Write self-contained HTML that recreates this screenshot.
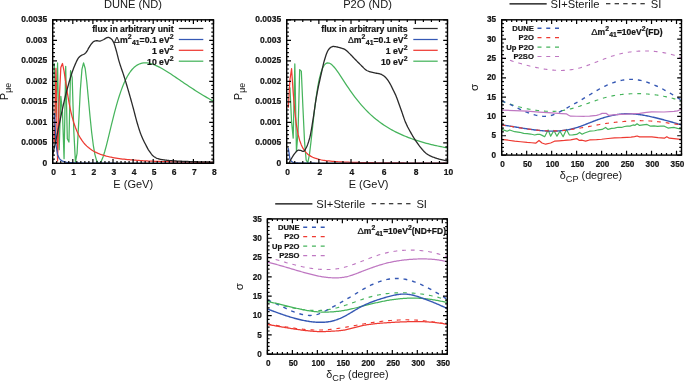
<!DOCTYPE html>
<html><head><meta charset="utf-8"><title>Sterile neutrino sensitivity</title>
<style>html,body{margin:0;padding:0;background:#fff}svg{display:block;filter:blur(0.3px)}text{font-family:"Liberation Sans",Arial,Helvetica,sans-serif;fill:#151515}text[font-weight=bold]{stroke:#151515;stroke-width:0.22px}</style>
</head><body>
<svg width="685" height="381" viewBox="0 0 685 381">
<rect width="685" height="381" fill="#fff"/>
<clipPath id="c1"><rect x="52.7" y="19.8" width="160.8" height="143.5"/></clipPath>
<path d="M54.32,63.26 L55.95,116.29 L57.57,62.90 L59.20,149.71 L60.82,96.33 L62.45,112.00 L64.07,158.72 L65.69,66.37 L67.32,138.80 L68.94,142.07 L70.57,70.51 L72.19,77.94 L73.82,131.35 L75.44,162.14 L77.06,153.45 L78.69,122.48 L80.31,90.35 L81.94,69.40 L83.56,62.85 L85.18,68.47 L86.81,82.00 L88.43,99.21 L90.06,116.78 L91.68,132.54 L93.31,145.29 L94.93,154.55 L96.55,160.35 L98.18,163.01 L99.80,162.98 L101.43,160.78 L103.05,156.89 L104.68,151.77 L106.30,145.82 L107.92,139.35 L109.55,132.65 L111.17,125.90 L112.80,119.28 L114.42,112.91 L116.05,106.86 L117.67,101.19 L119.29,95.95 L120.92,91.15 L122.54,86.78 L124.17,82.86 L125.79,79.36 L127.42,76.27 L129.04,73.57 L130.66,71.24 L132.29,69.25 L133.91,67.58 L135.54,66.20 L137.16,65.09 L138.78,64.23 L140.41,63.59 L142.03,63.16 L143.66,62.92 L145.28,62.85 L146.91,62.93 L148.53,63.15 L150.15,63.49 L151.78,63.93 L153.40,64.48 L155.03,65.11 L156.65,65.82 L158.28,66.60 L159.90,67.43 L161.52,68.31 L163.15,69.24 L164.77,70.21 L166.40,71.21 L168.02,72.24 L169.65,73.28 L171.27,74.35 L172.89,75.43 L174.52,76.52 L176.14,77.62 L177.77,78.72 L179.39,79.83 L181.02,80.94 L182.64,82.04 L184.26,83.15 L185.89,84.24 L187.51,85.34 L189.14,86.42 L190.76,87.49 L192.38,88.56 L194.01,89.61 L195.63,90.66 L197.26,91.69 L198.88,92.71 L200.51,93.72 L202.13,94.71 L203.75,95.70 L205.38,96.66 L207.00,97.62 L208.63,98.56 L210.25,99.49 L211.88,100.40 L213.50,101.30" fill="none" stroke="#46b45c" stroke-width="1.25" stroke-linejoin="round" clip-path="url(#c1)"/>
<path d="M54.32,142.07 L55.95,68.47 L57.57,160.78 L59.20,101.19 L60.82,67.58 L62.45,63.49 L64.07,71.21 L65.69,82.04 L67.32,92.71 L68.94,102.18 L70.57,110.27 L72.19,117.07 L73.82,122.77 L75.44,127.56 L77.06,131.60 L78.69,135.03 L80.31,137.95 L81.94,140.46 L83.56,142.62 L85.18,144.50 L86.81,146.14 L88.43,147.58 L90.06,148.85 L91.68,149.97 L93.31,150.97 L94.93,151.87 L96.55,152.67 L98.18,153.39 L99.80,154.04 L101.43,154.63 L103.05,155.16 L104.68,155.65 L106.30,156.10 L107.92,156.50 L109.55,156.88 L111.17,157.22 L112.80,157.54 L114.42,157.83 L116.05,158.11 L117.67,158.36 L119.29,158.59 L120.92,158.81 L122.54,159.01 L124.17,159.20 L125.79,159.38 L127.42,159.55 L129.04,159.70 L130.66,159.85 L132.29,159.99 L133.91,160.12 L135.54,160.24 L137.16,160.36 L138.78,160.46 L140.41,160.57 L142.03,160.67 L143.66,160.76 L145.28,160.85 L146.91,160.93 L148.53,161.01 L150.15,161.08 L151.78,161.15 L153.40,161.22 L155.03,161.29 L156.65,161.35 L158.28,161.41 L159.90,161.47 L161.52,161.52 L163.15,161.57 L164.77,161.62 L166.40,161.67 L168.02,161.71 L169.65,161.76 L171.27,161.80 L172.89,161.84 L174.52,161.88 L176.14,161.91 L177.77,161.95 L179.39,161.98 L181.02,162.02 L182.64,162.05 L184.26,162.08 L185.89,162.11 L187.51,162.14 L189.14,162.16 L190.76,162.19 L192.38,162.22 L194.01,162.24 L195.63,162.27 L197.26,162.29 L198.88,162.31 L200.51,162.33 L202.13,162.35 L203.75,162.37 L205.38,162.39 L207.00,162.41 L208.63,162.43 L210.25,162.45 L211.88,162.47 L213.50,162.48" fill="none" stroke="#ee3a32" stroke-width="1.25" stroke-linejoin="round" clip-path="url(#c1)"/>
<path d="M54.55,113.03 L55.95,144.50 L57.57,154.63 L59.20,158.36 L60.82,160.12 L62.45,161.08 L64.07,161.67 L65.69,162.05 L67.32,162.31 L68.94,162.50 L70.57,162.64 L72.19,162.74 L73.82,162.82 L75.44,162.89 L77.06,162.94 L78.69,162.99 L80.31,163.02 L81.94,163.05 L83.56,163.08 L85.18,163.10 L86.81,163.12 L88.43,163.13 L90.06,163.15 L91.68,163.16 L93.31,163.17 L94.93,163.18 L96.55,163.19 L98.18,163.20 L99.80,163.20 L101.43,163.21 L103.05,163.22 L104.68,163.22 L106.30,163.23 L107.92,163.23 L109.55,163.23 L111.17,163.24 L112.80,163.24 L114.42,163.24 L116.05,163.25 L117.67,163.25 L119.29,163.25 L120.92,163.25 L122.54,163.26 L124.17,163.26 L125.79,163.26 L127.42,163.26 L129.04,163.26 L130.66,163.27 L132.29,163.27 L133.91,163.27 L135.54,163.27 L137.16,163.27 L138.78,163.27 L140.41,163.27 L142.03,163.27 L143.66,163.27 L145.28,163.28 L146.91,163.28 L148.53,163.28 L150.15,163.28 L151.78,163.28 L153.40,163.28 L155.03,163.28 L156.65,163.28 L158.28,163.28 L159.90,163.28 L161.52,163.28 L163.15,163.28 L164.77,163.28 L166.40,163.28 L168.02,163.28 L169.65,163.28 L171.27,163.28 L172.89,163.29 L174.52,163.29 L176.14,163.29 L177.77,163.29 L179.39,163.29 L181.02,163.29 L182.64,163.29 L184.26,163.29 L185.89,163.29 L187.51,163.29 L189.14,163.29 L190.76,163.29 L192.38,163.29 L194.01,163.29 L195.63,163.29 L197.26,163.29 L198.88,163.29 L200.51,163.29 L202.13,163.29 L203.75,163.29 L205.38,163.29 L207.00,163.29 L208.63,163.29 L210.25,163.29 L211.88,163.29 L213.50,163.29" fill="none" stroke="#3558b4" stroke-width="1.25" stroke-linejoin="round" clip-path="url(#c1)"/>
<path d="M52.70,155.10 L53.24,152.63 L53.78,150.16 L54.31,147.69 L54.85,145.22 L55.39,142.76 L55.93,140.26 L56.46,137.72 L57.00,135.16 L57.54,132.58 L58.08,129.98 L58.62,127.38 L59.15,124.77 L59.69,122.16 L60.23,119.56 L60.77,116.97 L61.30,114.40 L61.84,111.85 L62.38,109.34 L62.92,106.86 L63.46,104.42 L63.99,102.03 L64.53,99.69 L65.07,97.42 L65.61,95.20 L66.14,93.06 L66.68,90.99 L67.22,88.99 L67.76,87.03 L68.30,85.08 L68.83,83.17 L69.37,81.30 L69.91,79.46 L70.45,77.66 L70.98,75.91 L71.52,74.21 L72.06,72.57 L72.60,71.00 L73.14,69.48 L73.67,68.04 L74.21,66.68 L74.75,65.39 L75.29,64.13 L75.83,62.90 L76.36,61.73 L76.90,60.62 L77.44,59.60 L77.98,58.69 L78.51,57.91 L79.05,57.27 L79.59,56.73 L80.13,56.26 L80.67,55.85 L81.20,55.49 L81.74,55.20 L82.28,54.96 L82.82,54.75 L83.35,54.51 L83.89,54.22 L84.43,53.86 L84.97,53.45 L85.51,52.98 L86.04,52.44 L86.58,51.79 L87.12,50.93 L87.66,49.94 L88.19,48.90 L88.73,47.93 L89.27,47.04 L89.81,46.14 L90.35,45.28 L90.88,44.50 L91.42,43.84 L91.96,43.22 L92.50,42.62 L93.03,42.08 L93.57,41.62 L94.11,41.28 L94.65,41.08 L95.19,40.94 L95.72,40.83 L96.26,40.75 L96.80,40.71 L97.34,40.74 L97.87,40.83 L98.41,40.96 L98.95,41.07 L99.49,41.12 L100.03,41.08 L100.56,40.94 L101.10,40.74 L101.64,40.50 L102.18,40.24 L102.71,39.99 L103.25,39.76 L103.79,39.48 L104.33,39.17 L104.87,38.83 L105.40,38.49 L105.94,38.17 L106.48,37.89 L107.02,37.66 L107.55,37.50 L108.09,37.43 L108.63,37.47 L109.17,37.63 L109.71,37.87 L110.24,38.18 L110.78,38.52 L111.32,38.92 L111.86,39.49 L112.39,40.23 L112.93,41.10 L113.47,42.07 L114.01,43.31 L114.55,44.85 L115.08,46.58 L115.62,48.40 L116.16,50.22 L116.70,52.18 L117.24,54.29 L117.77,56.45 L118.31,58.58 L118.85,60.58 L119.39,62.40 L119.92,64.12 L120.46,65.77 L121.00,67.36 L121.54,68.92 L122.08,70.47 L122.61,72.03 L123.15,73.61 L123.69,75.23 L124.23,76.93 L124.76,78.65 L125.30,80.40 L125.84,82.18 L126.38,83.97 L126.92,85.78 L127.45,87.60 L127.99,89.44 L128.53,91.29 L129.07,93.14 L129.60,95.01 L130.14,96.90 L130.68,98.80 L131.22,100.72 L131.76,102.65 L132.29,104.59 L132.83,106.56 L133.37,108.54 L133.91,110.58 L134.44,112.67 L134.98,114.77 L135.52,116.86 L136.06,118.91 L136.60,120.88 L137.13,122.76 L137.67,124.56 L138.21,126.34 L138.75,128.08 L139.28,129.77 L139.82,131.39 L140.36,132.94 L140.90,134.39 L141.44,135.75 L141.97,137.03 L142.51,138.26 L143.05,139.43 L143.59,140.56 L144.12,141.66 L144.66,142.73 L145.20,143.78 L145.74,144.82 L146.28,145.86 L146.81,146.90 L147.35,147.91 L147.89,148.89 L148.43,149.82 L148.96,150.68 L149.50,151.47 L150.04,152.24 L150.58,152.98 L151.12,153.69 L151.65,154.35 L152.19,154.96 L152.73,155.51 L153.27,155.97 L153.81,156.40 L154.34,156.80 L154.88,157.17 L155.42,157.50 L155.96,157.81 L156.49,158.08 L157.03,158.31 L157.57,158.50 L158.11,158.68 L158.65,158.85 L159.18,159.00 L159.72,159.14 L160.26,159.27 L160.80,159.38 L161.33,159.49 L161.87,159.58 L162.41,159.67 L162.95,159.75 L163.49,159.83 L164.02,159.91 L164.56,159.99 L165.10,160.06 L165.64,160.13 L166.17,160.19 L166.71,160.26 L167.25,160.32 L167.79,160.38 L168.33,160.43 L168.86,160.49 L169.40,160.54 L169.94,160.59 L170.48,160.63 L171.01,160.68 L171.55,160.72 L172.09,160.76 L172.63,160.80 L173.17,160.83 L173.70,160.86 L174.24,160.90 L174.78,160.93 L175.32,160.96 L175.85,160.99 L176.39,161.02 L176.93,161.05 L177.47,161.08 L178.01,161.10 L178.54,161.13 L179.08,161.15 L179.62,161.18 L180.16,161.20 L180.69,161.23 L181.23,161.25 L181.77,161.27 L182.31,161.30 L182.85,161.32 L183.38,161.34 L183.92,161.36 L184.46,161.38 L185.00,161.40 L185.53,161.42 L186.07,161.44 L186.61,161.46 L187.15,161.47 L187.69,161.49 L188.22,161.51 L188.76,161.53 L189.30,161.54 L189.84,161.56 L190.37,161.57 L190.91,161.59 L191.45,161.61 L191.99,161.62 L192.53,161.64 L193.06,161.65 L193.60,161.67 L194.14,161.68 L194.68,161.69 L195.22,161.71 L195.75,161.72 L196.29,161.74 L196.83,161.75 L197.37,161.76 L197.90,161.78 L198.44,161.79 L198.98,161.81 L199.52,161.82 L200.06,161.83 L200.59,161.84 L201.13,161.86 L201.67,161.87 L202.21,161.88 L202.74,161.89 L203.28,161.90 L203.82,161.92 L204.36,161.93 L204.90,161.94 L205.43,161.95 L205.97,161.96 L206.51,161.97 L207.05,161.98 L207.58,161.99 L208.12,162.00 L208.66,162.01 L209.20,162.01 L209.74,162.02 L210.27,162.03 L210.81,162.04 L211.35,162.05 L211.89,162.05 L212.42,162.06 L212.96,162.06 L213.50,162.07" fill="none" stroke="#2a2a2a" stroke-width="1.3" stroke-linejoin="round" clip-path="url(#c1)"/>
<path d="M52.70,163.3 v-2.2 M52.70,19.8 v2.2 M56.72,163.3 v-2.2 M56.72,19.8 v2.2 M60.74,163.3 v-2.2 M60.74,19.8 v2.2 M64.76,163.3 v-2.2 M64.76,19.8 v2.2 M68.78,163.3 v-2.2 M68.78,19.8 v2.2 M72.80,163.3 v-2.2 M72.80,19.8 v2.2 M76.82,163.3 v-2.2 M76.82,19.8 v2.2 M80.84,163.3 v-2.2 M80.84,19.8 v2.2 M84.86,163.3 v-2.2 M84.86,19.8 v2.2 M88.88,163.3 v-2.2 M88.88,19.8 v2.2 M92.90,163.3 v-2.2 M92.90,19.8 v2.2 M96.92,163.3 v-2.2 M96.92,19.8 v2.2 M100.94,163.3 v-2.2 M100.94,19.8 v2.2 M104.96,163.3 v-2.2 M104.96,19.8 v2.2 M108.98,163.3 v-2.2 M108.98,19.8 v2.2 M113.00,163.3 v-2.2 M113.00,19.8 v2.2 M117.02,163.3 v-2.2 M117.02,19.8 v2.2 M121.04,163.3 v-2.2 M121.04,19.8 v2.2 M125.06,163.3 v-2.2 M125.06,19.8 v2.2 M129.08,163.3 v-2.2 M129.08,19.8 v2.2 M133.10,163.3 v-2.2 M133.10,19.8 v2.2 M137.12,163.3 v-2.2 M137.12,19.8 v2.2 M141.14,163.3 v-2.2 M141.14,19.8 v2.2 M145.16,163.3 v-2.2 M145.16,19.8 v2.2 M149.18,163.3 v-2.2 M149.18,19.8 v2.2 M153.20,163.3 v-2.2 M153.20,19.8 v2.2 M157.22,163.3 v-2.2 M157.22,19.8 v2.2 M161.24,163.3 v-2.2 M161.24,19.8 v2.2 M165.26,163.3 v-2.2 M165.26,19.8 v2.2 M169.28,163.3 v-2.2 M169.28,19.8 v2.2 M173.30,163.3 v-2.2 M173.30,19.8 v2.2 M177.32,163.3 v-2.2 M177.32,19.8 v2.2 M181.34,163.3 v-2.2 M181.34,19.8 v2.2 M185.36,163.3 v-2.2 M185.36,19.8 v2.2 M189.38,163.3 v-2.2 M189.38,19.8 v2.2 M193.40,163.3 v-2.2 M193.40,19.8 v2.2 M197.42,163.3 v-2.2 M197.42,19.8 v2.2 M201.44,163.3 v-2.2 M201.44,19.8 v2.2 M205.46,163.3 v-2.2 M205.46,19.8 v2.2 M209.48,163.3 v-2.2 M209.48,19.8 v2.2 M213.50,163.3 v-2.2 M213.50,19.8 v2.2 M52.70,163.3 v-4.3 M52.70,19.8 v4.3 M72.80,163.3 v-4.3 M72.80,19.8 v4.3 M92.90,163.3 v-4.3 M92.90,19.8 v4.3 M113.00,163.3 v-4.3 M113.00,19.8 v4.3 M133.10,163.3 v-4.3 M133.10,19.8 v4.3 M153.20,163.3 v-4.3 M153.20,19.8 v4.3 M173.30,163.3 v-4.3 M173.30,19.8 v4.3 M193.40,163.3 v-4.3 M193.40,19.8 v4.3 M213.50,163.3 v-4.3 M213.50,19.8 v4.3 M52.7,163.30 h2.2 M213.5,163.30 h-2.2 M52.7,159.20 h2.2 M213.5,159.20 h-2.2 M52.7,155.10 h2.2 M213.5,155.10 h-2.2 M52.7,151.00 h2.2 M213.5,151.00 h-2.2 M52.7,146.90 h2.2 M213.5,146.90 h-2.2 M52.7,142.80 h2.2 M213.5,142.80 h-2.2 M52.7,138.70 h2.2 M213.5,138.70 h-2.2 M52.7,134.60 h2.2 M213.5,134.60 h-2.2 M52.7,130.50 h2.2 M213.5,130.50 h-2.2 M52.7,126.40 h2.2 M213.5,126.40 h-2.2 M52.7,122.30 h2.2 M213.5,122.30 h-2.2 M52.7,118.20 h2.2 M213.5,118.20 h-2.2 M52.7,114.10 h2.2 M213.5,114.10 h-2.2 M52.7,110.00 h2.2 M213.5,110.00 h-2.2 M52.7,105.90 h2.2 M213.5,105.90 h-2.2 M52.7,101.80 h2.2 M213.5,101.80 h-2.2 M52.7,97.70 h2.2 M213.5,97.70 h-2.2 M52.7,93.60 h2.2 M213.5,93.60 h-2.2 M52.7,89.50 h2.2 M213.5,89.50 h-2.2 M52.7,85.40 h2.2 M213.5,85.40 h-2.2 M52.7,81.30 h2.2 M213.5,81.30 h-2.2 M52.7,77.20 h2.2 M213.5,77.20 h-2.2 M52.7,73.10 h2.2 M213.5,73.10 h-2.2 M52.7,69.00 h2.2 M213.5,69.00 h-2.2 M52.7,64.90 h2.2 M213.5,64.90 h-2.2 M52.7,60.80 h2.2 M213.5,60.80 h-2.2 M52.7,56.70 h2.2 M213.5,56.70 h-2.2 M52.7,52.60 h2.2 M213.5,52.60 h-2.2 M52.7,48.50 h2.2 M213.5,48.50 h-2.2 M52.7,44.40 h2.2 M213.5,44.40 h-2.2 M52.7,40.30 h2.2 M213.5,40.30 h-2.2 M52.7,36.20 h2.2 M213.5,36.20 h-2.2 M52.7,32.10 h2.2 M213.5,32.10 h-2.2 M52.7,28.00 h2.2 M213.5,28.00 h-2.2 M52.7,23.90 h2.2 M213.5,23.90 h-2.2 M52.7,19.80 h2.2 M213.5,19.80 h-2.2 M52.7,163.30 h4.3 M213.5,163.30 h-4.3 M52.7,142.80 h4.3 M213.5,142.80 h-4.3 M52.7,122.30 h4.3 M213.5,122.30 h-4.3 M52.7,101.80 h4.3 M213.5,101.80 h-4.3 M52.7,81.30 h4.3 M213.5,81.30 h-4.3 M52.7,60.80 h4.3 M213.5,60.80 h-4.3 M52.7,40.30 h4.3 M213.5,40.30 h-4.3 M52.7,19.80 h4.3 M213.5,19.80 h-4.3" stroke="#000" stroke-width="1.2" fill="none"/>
<rect x="52.7" y="19.8" width="160.8" height="143.5" fill="none" stroke="#000" stroke-width="1.4"/>
<text transform="translate(53.6,174.8) scale(0.91,1)" font-size="9.3" text-anchor="middle" font-weight="bold">0</text>
<text transform="translate(73.7,174.8) scale(0.91,1)" font-size="9.3" text-anchor="middle" font-weight="bold">1</text>
<text transform="translate(93.8,174.8) scale(0.91,1)" font-size="9.3" text-anchor="middle" font-weight="bold">2</text>
<text transform="translate(113.9,174.8) scale(0.91,1)" font-size="9.3" text-anchor="middle" font-weight="bold">3</text>
<text transform="translate(134.0,174.8) scale(0.91,1)" font-size="9.3" text-anchor="middle" font-weight="bold">4</text>
<text transform="translate(154.1,174.8) scale(0.91,1)" font-size="9.3" text-anchor="middle" font-weight="bold">5</text>
<text transform="translate(174.2,174.8) scale(0.91,1)" font-size="9.3" text-anchor="middle" font-weight="bold">6</text>
<text transform="translate(194.3,174.8) scale(0.91,1)" font-size="9.3" text-anchor="middle" font-weight="bold">7</text>
<text transform="translate(214.4,174.8) scale(0.91,1)" font-size="9.3" text-anchor="middle" font-weight="bold">8</text>
<text transform="translate(47.1,165.9) scale(0.91,1)" font-size="9.3" text-anchor="end" font-weight="bold">0</text>
<text transform="translate(47.1,145.4) scale(0.91,1)" font-size="9.3" text-anchor="end" font-weight="bold">0.0005</text>
<text transform="translate(47.1,124.9) scale(0.91,1)" font-size="9.3" text-anchor="end" font-weight="bold">0.001</text>
<text transform="translate(47.1,104.4) scale(0.91,1)" font-size="9.3" text-anchor="end" font-weight="bold">0.0015</text>
<text transform="translate(47.1,83.9) scale(0.91,1)" font-size="9.3" text-anchor="end" font-weight="bold">0.002</text>
<text transform="translate(47.1,63.4) scale(0.91,1)" font-size="9.3" text-anchor="end" font-weight="bold">0.0025</text>
<text transform="translate(47.1,42.9) scale(0.91,1)" font-size="9.3" text-anchor="end" font-weight="bold">0.003</text>
<text transform="translate(47.1,22.4) scale(0.91,1)" font-size="9.3" text-anchor="end" font-weight="bold">0.0035</text>
<text x="133" y="8.35" font-size="11.1" text-anchor="middle">DUNE (ND)</text>
<text x="133.2" y="187.5" font-size="11.0" text-anchor="middle">E (GeV)</text>
<text transform="translate(7.8,99.9) rotate(-90)" font-size="10.7">P<tspan dy="3.4" font-size="8.8">μe</tspan></text>
<path d="M178.8,28.5 H203.3" stroke="#2a2a2a" stroke-width="1.25"/>
<path d="M178.8,39.5 H203.3" stroke="#3558b4" stroke-width="1.25"/>
<path d="M178.8,50.3 H203.3" stroke="#ee3a32" stroke-width="1.25"/>
<path d="M178.8,61.2 H203.3" stroke="#46b45c" stroke-width="1.25"/>
<text transform="translate(173.6,31.6) scale(0.965,1)" font-size="9.0" text-anchor="end" font-weight="bold">flux in arbitrary unit</text>
<text transform="translate(173.6,42.6) scale(0.965,1)" font-size="9.0" text-anchor="end" font-weight="bold"><tspan font-weight="normal" font-size="9.00">Δ</tspan>m<tspan dy="-3.6" font-size="7.20">2</tspan><tspan dy="5.6" dx="0.4" font-size="7.20">41</tspan><tspan dy="-2">=0.1 eV</tspan><tspan dy="-3.6" font-size="7.20">2</tspan></text>
<text transform="translate(173.6,54.0) scale(0.965,1)" font-size="9.0" text-anchor="end" font-weight="bold">1 eV<tspan dy="-3.6" font-size="7.20">2</tspan></text>
<text transform="translate(173.6,64.60000000000001) scale(0.965,1)" font-size="9.0" text-anchor="end" font-weight="bold">10 eV<tspan dy="-3.6" font-size="7.20">2</tspan></text>
<clipPath id="c2"><rect x="286.7" y="19.8" width="160.8" height="143.5"/></clipPath>
<path d="M288.32,88.35 L289.95,87.77 L291.57,121.65 L293.20,138.09 L294.82,63.97 L296.45,151.50 L298.07,131.48 L299.69,69.61 L301.32,71.09 L302.94,107.78 L304.57,142.17 L306.19,160.26 L307.82,162.66 L309.44,154.59 L311.06,141.19 L312.69,126.10 L314.31,111.55 L315.94,98.69 L317.56,87.98 L319.18,79.48 L320.81,73.05 L322.43,68.44 L324.06,65.39 L325.68,63.62 L327.31,62.89 L328.93,63.01 L330.55,63.79 L332.18,65.08 L333.80,66.75 L335.43,68.72 L337.05,70.90 L338.68,73.22 L340.30,75.63 L341.92,78.10 L343.55,80.59 L345.17,83.07 L346.80,85.53 L348.42,87.95 L350.05,90.32 L351.67,92.64 L353.29,94.89 L354.92,97.07 L356.54,99.18 L358.17,101.22 L359.79,103.20 L361.42,105.10 L363.04,106.93 L364.66,108.69 L366.29,110.38 L367.91,112.01 L369.54,113.58 L371.16,115.09 L372.78,116.54 L374.41,117.93 L376.03,119.27 L377.66,120.55 L379.28,121.79 L380.91,122.98 L382.53,124.12 L384.15,125.22 L385.78,126.28 L387.40,127.29 L389.03,128.27 L390.65,129.21 L392.28,130.12 L393.90,130.99 L395.52,131.83 L397.15,132.65 L398.77,133.43 L400.40,134.18 L402.02,134.91 L403.65,135.61 L405.27,136.29 L406.89,136.94 L408.52,137.57 L410.14,138.18 L411.77,138.77 L413.39,139.34 L415.02,139.89 L416.64,140.42 L418.26,140.94 L419.89,141.44 L421.51,141.92 L423.14,142.39 L424.76,142.84 L426.38,143.28 L428.01,143.71 L429.63,144.12 L431.26,144.52 L432.88,144.91 L434.51,145.28 L436.13,145.65 L437.75,146.00 L439.38,146.34 L441.00,146.68 L442.63,147.00 L444.25,147.32 L445.88,147.62 L447.50,147.92" fill="none" stroke="#46b45c" stroke-width="1.25" stroke-linejoin="round" clip-path="url(#c2)"/>
<path d="M288.32,107.78 L289.95,79.48 L291.57,68.72 L293.20,92.64 L294.82,112.01 L296.45,125.22 L298.07,134.18 L299.69,140.42 L301.32,144.91 L302.94,148.21 L304.57,150.71 L306.19,152.65 L307.82,154.18 L309.44,155.40 L311.06,156.39 L312.69,157.21 L314.31,157.89 L315.94,158.47 L317.56,158.96 L319.18,159.37 L320.81,159.74 L322.43,160.05 L324.06,160.32 L325.68,160.56 L327.31,160.78 L328.93,160.96 L330.55,161.13 L332.18,161.28 L333.80,161.42 L335.43,161.54 L337.05,161.65 L338.68,161.75 L340.30,161.85 L341.92,161.93 L343.55,162.01 L345.17,162.08 L346.80,162.14 L348.42,162.20 L350.05,162.26 L351.67,162.31 L353.29,162.36 L354.92,162.40 L356.54,162.44 L358.17,162.48 L359.79,162.52 L361.42,162.55 L363.04,162.58 L364.66,162.61 L366.29,162.64 L367.91,162.66 L369.54,162.69 L371.16,162.71 L372.78,162.73 L374.41,162.76 L376.03,162.77 L377.66,162.79 L379.28,162.81 L380.91,162.83 L382.53,162.84 L384.15,162.86 L385.78,162.87 L387.40,162.89 L389.03,162.90 L390.65,162.91 L392.28,162.92 L393.90,162.94 L395.52,162.95 L397.15,162.96 L398.77,162.97 L400.40,162.98 L402.02,162.98 L403.65,162.99 L405.27,163.00 L406.89,163.01 L408.52,163.02 L410.14,163.02 L411.77,163.03 L413.39,163.04 L415.02,163.05 L416.64,163.05 L418.26,163.06 L419.89,163.06 L421.51,163.07 L423.14,163.07 L424.76,163.08 L426.38,163.09 L428.01,163.09 L429.63,163.09 L431.26,163.10 L432.88,163.10 L434.51,163.11 L436.13,163.11 L437.75,163.12 L439.38,163.12 L441.00,163.12 L442.63,163.13 L444.25,163.13 L445.88,163.13 L447.50,163.14" fill="none" stroke="#ee3a32" stroke-width="1.25" stroke-linejoin="round" clip-path="url(#c2)"/>
<path d="M288.32,148.21 L289.95,159.37 L291.57,161.54 L293.20,162.31 L294.82,162.66 L296.45,162.86 L298.07,162.98 L299.69,163.05 L301.32,163.10 L302.94,163.14 L304.57,163.17 L306.19,163.19 L307.82,163.21 L309.44,163.22 L311.06,163.23 L312.69,163.24 L314.31,163.24 L315.94,163.25 L317.56,163.26 L319.18,163.26 L320.81,163.26 L322.43,163.27 L324.06,163.27 L325.68,163.27 L327.31,163.27 L328.93,163.28 L330.55,163.28 L332.18,163.28 L333.80,163.28 L335.43,163.28 L337.05,163.28 L338.68,163.28 L340.30,163.29 L341.92,163.29 L343.55,163.29 L345.17,163.29 L346.80,163.29 L348.42,163.29 L350.05,163.29 L351.67,163.29 L353.29,163.29 L354.92,163.29 L356.54,163.29 L358.17,163.29 L359.79,163.29 L361.42,163.29 L363.04,163.29 L364.66,163.29 L366.29,163.29 L367.91,163.29 L369.54,163.29 L371.16,163.29 L372.78,163.29 L374.41,163.29 L376.03,163.29 L377.66,163.29 L379.28,163.30 L380.91,163.30 L382.53,163.30 L384.15,163.30 L385.78,163.30 L387.40,163.30 L389.03,163.30 L390.65,163.30 L392.28,163.30 L393.90,163.30 L395.52,163.30 L397.15,163.30 L398.77,163.30 L400.40,163.30 L402.02,163.30 L403.65,163.30 L405.27,163.30 L406.89,163.30 L408.52,163.30 L410.14,163.30 L411.77,163.30 L413.39,163.30 L415.02,163.30 L416.64,163.30 L418.26,163.30 L419.89,163.30 L421.51,163.30 L423.14,163.30 L424.76,163.30 L426.38,163.30 L428.01,163.30 L429.63,163.30 L431.26,163.30 L432.88,163.30 L434.51,163.30 L436.13,163.30 L437.75,163.30 L439.38,163.30 L441.00,163.30 L442.63,163.30 L444.25,163.30 L445.88,163.30 L447.50,163.30" fill="none" stroke="#3558b4" stroke-width="1.25" stroke-linejoin="round" clip-path="url(#c2)"/>
<path d="M286.70,163.30 L287.24,163.30 L287.78,163.30 L288.31,163.30 L288.85,163.04 L289.39,162.38 L289.93,161.43 L290.46,160.36 L291.00,159.29 L291.54,158.36 L292.08,157.50 L292.62,156.61 L293.15,155.72 L293.69,154.87 L294.23,154.10 L294.77,153.43 L295.30,152.80 L295.84,152.15 L296.38,151.52 L296.92,150.97 L297.46,150.53 L297.99,150.26 L298.53,150.18 L299.07,150.21 L299.61,150.28 L300.14,150.37 L300.68,150.48 L301.22,150.60 L301.76,150.80 L302.30,151.06 L302.83,151.30 L303.37,151.41 L303.91,151.23 L304.45,150.68 L304.98,149.89 L305.52,148.96 L306.06,148.02 L306.60,146.99 L307.14,145.78 L307.67,144.40 L308.21,142.87 L308.75,141.18 L309.29,139.35 L309.83,137.38 L310.36,135.04 L310.90,132.30 L311.44,129.27 L311.98,126.03 L312.51,122.68 L313.05,119.31 L313.59,115.91 L314.13,112.21 L314.67,108.39 L315.20,104.66 L315.74,101.20 L316.28,97.97 L316.82,94.86 L317.35,91.91 L317.89,89.11 L318.43,86.46 L318.97,83.94 L319.51,81.50 L320.04,79.09 L320.58,76.69 L321.12,74.24 L321.66,71.75 L322.19,69.27 L322.73,66.86 L323.27,64.55 L323.81,62.40 L324.35,60.46 L324.88,58.69 L325.42,56.97 L325.96,55.32 L326.50,53.79 L327.03,52.41 L327.57,51.22 L328.11,50.26 L328.65,49.49 L329.19,48.80 L329.72,48.21 L330.26,47.71 L330.80,47.34 L331.34,47.05 L331.87,46.78 L332.41,46.58 L332.95,46.46 L333.49,46.46 L334.03,46.49 L334.56,46.55 L335.10,46.62 L335.64,46.71 L336.18,46.80 L336.71,46.89 L337.25,47.00 L337.79,47.12 L338.33,47.27 L338.87,47.42 L339.40,47.58 L339.94,47.73 L340.48,47.88 L341.02,48.04 L341.55,48.19 L342.09,48.35 L342.63,48.53 L343.17,48.72 L343.71,48.93 L344.24,49.16 L344.78,49.42 L345.32,49.74 L345.86,50.13 L346.39,50.56 L346.93,51.04 L347.47,51.54 L348.01,52.06 L348.55,52.59 L349.08,53.11 L349.62,53.62 L350.16,54.14 L350.70,54.68 L351.24,55.24 L351.77,55.80 L352.31,56.38 L352.85,56.95 L353.39,57.53 L353.92,58.09 L354.46,58.65 L355.00,59.20 L355.54,59.75 L356.08,60.31 L356.61,60.86 L357.15,61.41 L357.69,61.96 L358.23,62.50 L358.76,63.04 L359.30,63.58 L359.84,64.10 L360.38,64.62 L360.92,65.14 L361.45,65.67 L361.99,66.21 L362.53,66.77 L363.07,67.32 L363.60,67.87 L364.14,68.39 L364.68,68.90 L365.22,69.37 L365.76,69.80 L366.29,70.18 L366.83,70.50 L367.37,70.77 L367.91,71.00 L368.44,71.22 L368.98,71.42 L369.52,71.60 L370.06,71.77 L370.60,71.92 L371.13,72.07 L371.67,72.21 L372.21,72.35 L372.75,72.48 L373.28,72.60 L373.82,72.71 L374.36,72.82 L374.90,72.92 L375.44,73.03 L375.97,73.14 L376.51,73.24 L377.05,73.33 L377.59,73.42 L378.12,73.51 L378.66,73.61 L379.20,73.72 L379.74,73.86 L380.28,74.02 L380.81,74.21 L381.35,74.44 L381.89,74.71 L382.43,75.01 L382.96,75.33 L383.50,75.69 L384.04,76.07 L384.58,76.47 L385.12,76.94 L385.65,77.49 L386.19,78.10 L386.73,78.77 L387.27,79.48 L387.81,80.21 L388.34,80.96 L388.88,81.78 L389.42,82.66 L389.96,83.59 L390.49,84.55 L391.03,85.54 L391.57,86.61 L392.11,87.72 L392.65,88.86 L393.18,89.98 L393.72,91.06 L394.26,92.14 L394.80,93.23 L395.33,94.37 L395.87,95.59 L396.41,96.89 L396.95,98.27 L397.49,99.70 L398.02,101.17 L398.56,102.67 L399.10,104.19 L399.64,105.72 L400.17,107.24 L400.71,108.75 L401.25,110.25 L401.79,111.80 L402.33,113.39 L402.86,114.99 L403.40,116.57 L403.94,118.13 L404.48,119.63 L405.01,121.06 L405.55,122.38 L406.09,123.61 L406.63,124.77 L407.17,125.88 L407.70,126.95 L408.24,127.98 L408.78,128.98 L409.32,129.97 L409.85,130.94 L410.39,131.92 L410.93,132.89 L411.47,133.85 L412.01,134.79 L412.54,135.71 L413.08,136.62 L413.62,137.50 L414.16,138.36 L414.69,139.20 L415.23,140.02 L415.77,140.84 L416.31,141.64 L416.85,142.43 L417.38,143.21 L417.92,143.97 L418.46,144.71 L419.00,145.42 L419.53,146.12 L420.07,146.79 L420.61,147.44 L421.15,148.10 L421.69,148.75 L422.22,149.40 L422.76,150.03 L423.30,150.65 L423.84,151.24 L424.37,151.81 L424.91,152.35 L425.45,152.84 L425.99,153.30 L426.53,153.71 L427.06,154.07 L427.60,154.42 L428.14,154.74 L428.68,155.05 L429.22,155.34 L429.75,155.62 L430.29,155.88 L430.83,156.14 L431.37,156.38 L431.90,156.61 L432.44,156.83 L432.98,157.05 L433.52,157.26 L434.06,157.46 L434.59,157.66 L435.13,157.86 L435.67,158.05 L436.21,158.23 L436.74,158.41 L437.28,158.58 L437.82,158.74 L438.36,158.90 L438.90,159.05 L439.43,159.20 L439.97,159.34 L440.51,159.48 L441.05,159.60 L441.58,159.73 L442.12,159.85 L442.66,159.97 L443.20,160.08 L443.74,160.19 L444.27,160.30 L444.81,160.40 L445.35,160.50 L445.89,160.59 L446.42,160.68 L446.96,160.76 L447.50,160.84" fill="none" stroke="#2a2a2a" stroke-width="1.3" stroke-linejoin="round" clip-path="url(#c2)"/>
<path d="M286.70,163.3 v-2.2 M286.70,19.8 v2.2 M294.74,163.3 v-2.2 M294.74,19.8 v2.2 M302.78,163.3 v-2.2 M302.78,19.8 v2.2 M310.82,163.3 v-2.2 M310.82,19.8 v2.2 M318.86,163.3 v-2.2 M318.86,19.8 v2.2 M326.90,163.3 v-2.2 M326.90,19.8 v2.2 M334.94,163.3 v-2.2 M334.94,19.8 v2.2 M342.98,163.3 v-2.2 M342.98,19.8 v2.2 M351.02,163.3 v-2.2 M351.02,19.8 v2.2 M359.06,163.3 v-2.2 M359.06,19.8 v2.2 M367.10,163.3 v-2.2 M367.10,19.8 v2.2 M375.14,163.3 v-2.2 M375.14,19.8 v2.2 M383.18,163.3 v-2.2 M383.18,19.8 v2.2 M391.22,163.3 v-2.2 M391.22,19.8 v2.2 M399.26,163.3 v-2.2 M399.26,19.8 v2.2 M407.30,163.3 v-2.2 M407.30,19.8 v2.2 M415.34,163.3 v-2.2 M415.34,19.8 v2.2 M423.38,163.3 v-2.2 M423.38,19.8 v2.2 M431.42,163.3 v-2.2 M431.42,19.8 v2.2 M439.46,163.3 v-2.2 M439.46,19.8 v2.2 M447.50,163.3 v-2.2 M447.50,19.8 v2.2 M286.70,163.3 v-4.3 M286.70,19.8 v4.3 M318.86,163.3 v-4.3 M318.86,19.8 v4.3 M351.02,163.3 v-4.3 M351.02,19.8 v4.3 M383.18,163.3 v-4.3 M383.18,19.8 v4.3 M415.34,163.3 v-4.3 M415.34,19.8 v4.3 M447.50,163.3 v-4.3 M447.50,19.8 v4.3 M286.7,163.30 h2.2 M447.5,163.30 h-2.2 M286.7,159.20 h2.2 M447.5,159.20 h-2.2 M286.7,155.10 h2.2 M447.5,155.10 h-2.2 M286.7,151.00 h2.2 M447.5,151.00 h-2.2 M286.7,146.90 h2.2 M447.5,146.90 h-2.2 M286.7,142.80 h2.2 M447.5,142.80 h-2.2 M286.7,138.70 h2.2 M447.5,138.70 h-2.2 M286.7,134.60 h2.2 M447.5,134.60 h-2.2 M286.7,130.50 h2.2 M447.5,130.50 h-2.2 M286.7,126.40 h2.2 M447.5,126.40 h-2.2 M286.7,122.30 h2.2 M447.5,122.30 h-2.2 M286.7,118.20 h2.2 M447.5,118.20 h-2.2 M286.7,114.10 h2.2 M447.5,114.10 h-2.2 M286.7,110.00 h2.2 M447.5,110.00 h-2.2 M286.7,105.90 h2.2 M447.5,105.90 h-2.2 M286.7,101.80 h2.2 M447.5,101.80 h-2.2 M286.7,97.70 h2.2 M447.5,97.70 h-2.2 M286.7,93.60 h2.2 M447.5,93.60 h-2.2 M286.7,89.50 h2.2 M447.5,89.50 h-2.2 M286.7,85.40 h2.2 M447.5,85.40 h-2.2 M286.7,81.30 h2.2 M447.5,81.30 h-2.2 M286.7,77.20 h2.2 M447.5,77.20 h-2.2 M286.7,73.10 h2.2 M447.5,73.10 h-2.2 M286.7,69.00 h2.2 M447.5,69.00 h-2.2 M286.7,64.90 h2.2 M447.5,64.90 h-2.2 M286.7,60.80 h2.2 M447.5,60.80 h-2.2 M286.7,56.70 h2.2 M447.5,56.70 h-2.2 M286.7,52.60 h2.2 M447.5,52.60 h-2.2 M286.7,48.50 h2.2 M447.5,48.50 h-2.2 M286.7,44.40 h2.2 M447.5,44.40 h-2.2 M286.7,40.30 h2.2 M447.5,40.30 h-2.2 M286.7,36.20 h2.2 M447.5,36.20 h-2.2 M286.7,32.10 h2.2 M447.5,32.10 h-2.2 M286.7,28.00 h2.2 M447.5,28.00 h-2.2 M286.7,23.90 h2.2 M447.5,23.90 h-2.2 M286.7,19.80 h2.2 M447.5,19.80 h-2.2 M286.7,163.30 h4.3 M447.5,163.30 h-4.3 M286.7,142.80 h4.3 M447.5,142.80 h-4.3 M286.7,122.30 h4.3 M447.5,122.30 h-4.3 M286.7,101.80 h4.3 M447.5,101.80 h-4.3 M286.7,81.30 h4.3 M447.5,81.30 h-4.3 M286.7,60.80 h4.3 M447.5,60.80 h-4.3 M286.7,40.30 h4.3 M447.5,40.30 h-4.3 M286.7,19.80 h4.3 M447.5,19.80 h-4.3" stroke="#000" stroke-width="1.2" fill="none"/>
<rect x="286.7" y="19.8" width="160.8" height="143.5" fill="none" stroke="#000" stroke-width="1.4"/>
<text transform="translate(287.6,174.8) scale(0.91,1)" font-size="9.3" text-anchor="middle" font-weight="bold">0</text>
<text transform="translate(319.8,174.8) scale(0.91,1)" font-size="9.3" text-anchor="middle" font-weight="bold">2</text>
<text transform="translate(351.9,174.8) scale(0.91,1)" font-size="9.3" text-anchor="middle" font-weight="bold">4</text>
<text transform="translate(384.1,174.8) scale(0.91,1)" font-size="9.3" text-anchor="middle" font-weight="bold">6</text>
<text transform="translate(416.2,174.8) scale(0.91,1)" font-size="9.3" text-anchor="middle" font-weight="bold">8</text>
<text transform="translate(448.4,174.8) scale(0.91,1)" font-size="9.3" text-anchor="middle" font-weight="bold">10</text>
<text transform="translate(281.1,165.9) scale(0.91,1)" font-size="9.3" text-anchor="end" font-weight="bold">0</text>
<text transform="translate(281.1,145.4) scale(0.91,1)" font-size="9.3" text-anchor="end" font-weight="bold">0.0005</text>
<text transform="translate(281.1,124.9) scale(0.91,1)" font-size="9.3" text-anchor="end" font-weight="bold">0.001</text>
<text transform="translate(281.1,104.4) scale(0.91,1)" font-size="9.3" text-anchor="end" font-weight="bold">0.0015</text>
<text transform="translate(281.1,83.9) scale(0.91,1)" font-size="9.3" text-anchor="end" font-weight="bold">0.002</text>
<text transform="translate(281.1,63.4) scale(0.91,1)" font-size="9.3" text-anchor="end" font-weight="bold">0.0025</text>
<text transform="translate(281.1,42.9) scale(0.91,1)" font-size="9.3" text-anchor="end" font-weight="bold">0.003</text>
<text transform="translate(281.1,22.4) scale(0.91,1)" font-size="9.3" text-anchor="end" font-weight="bold">0.0035</text>
<text x="367.5" y="8.35" font-size="11.1" text-anchor="middle">P2O (ND)</text>
<text x="368.6" y="187.5" font-size="11.0" text-anchor="middle">E (GeV)</text>
<text transform="translate(241.8,99.9) rotate(-90)" font-size="10.7">P<tspan dy="3.4" font-size="8.8">μe</tspan></text>
<path d="M413.3,28.5 H437.7" stroke="#2a2a2a" stroke-width="1.25"/>
<path d="M413.3,39.5 H437.7" stroke="#3558b4" stroke-width="1.25"/>
<path d="M413.3,50.3 H437.7" stroke="#ee3a32" stroke-width="1.25"/>
<path d="M413.3,61.2 H437.7" stroke="#46b45c" stroke-width="1.25"/>
<text transform="translate(407.5,31.6) scale(0.965,1)" font-size="9.0" text-anchor="end" font-weight="bold">flux in arbitrary units</text>
<text transform="translate(407.5,42.6) scale(0.965,1)" font-size="9.0" text-anchor="end" font-weight="bold"><tspan font-weight="normal" font-size="9.00">Δ</tspan>m<tspan dy="-3.6" font-size="7.20">2</tspan><tspan dy="5.6" dx="0.4" font-size="7.20">41</tspan><tspan dy="-2">=0.1 eV</tspan><tspan dy="-3.6" font-size="7.20">2</tspan></text>
<text transform="translate(407.5,54.0) scale(0.965,1)" font-size="9.0" text-anchor="end" font-weight="bold">1 eV<tspan dy="-3.6" font-size="7.20">2</tspan></text>
<text transform="translate(407.5,64.60000000000001) scale(0.965,1)" font-size="9.0" text-anchor="end" font-weight="bold">10 eV<tspan dy="-3.6" font-size="7.20">2</tspan></text>
<clipPath id="c3"><rect x="501.7" y="19.8" width="179.8" height="135.29999999999998"/></clipPath>
<path d="M501.70,57.68 L502.70,58.01 L503.70,58.33 L504.70,58.65 L505.70,58.97 L506.69,59.29 L507.69,59.60 L508.69,59.92 L509.69,60.24 L510.69,60.55 L511.69,60.86 L512.69,61.17 L513.69,61.48 L514.69,61.79 L515.68,62.09 L516.68,62.39 L517.68,62.69 L518.68,62.99 L519.68,63.28 L520.68,63.57 L521.68,63.85 L522.68,64.13 L523.68,64.41 L524.67,64.69 L525.67,64.96 L526.67,65.22 L527.67,65.48 L528.67,65.74 L529.67,65.99 L530.67,66.24 L531.67,66.48 L532.67,66.72 L533.66,66.95 L534.66,67.18 L535.66,67.40 L536.66,67.61 L537.66,67.82 L538.66,68.02 L539.66,68.21 L540.66,68.40 L541.66,68.58 L542.65,68.76 L543.65,68.93 L544.65,69.09 L545.65,69.24 L546.65,69.39 L547.65,69.52 L548.65,69.65 L549.65,69.77 L550.65,69.88 L551.64,69.99 L552.64,70.08 L553.64,70.16 L554.64,70.23 L555.64,70.30 L556.64,70.35 L557.64,70.39 L558.64,70.42 L559.64,70.43 L560.63,70.44 L561.63,70.43 L562.63,70.42 L563.63,70.38 L564.63,70.34 L565.63,70.28 L566.63,70.21 L567.63,70.13 L568.63,70.03 L569.62,69.92 L570.62,69.79 L571.62,69.65 L572.62,69.49 L573.62,69.32 L574.62,69.13 L575.62,68.92 L576.62,68.70 L577.62,68.46 L578.61,68.21 L579.61,67.94 L580.61,67.66 L581.61,67.37 L582.61,67.06 L583.61,66.74 L584.61,66.41 L585.61,66.08 L586.61,65.73 L587.60,65.37 L588.60,65.01 L589.60,64.64 L590.60,64.27 L591.60,63.89 L592.60,63.50 L593.60,63.12 L594.60,62.73 L595.60,62.34 L596.59,61.94 L597.59,61.55 L598.59,61.15 L599.59,60.76 L600.59,60.37 L601.59,59.98 L602.59,59.59 L603.59,59.20 L604.59,58.82 L605.58,58.44 L606.58,58.07 L607.58,57.71 L608.58,57.35 L609.58,56.99 L610.58,56.65 L611.58,56.31 L612.58,55.99 L613.58,55.67 L614.57,55.36 L615.57,55.07 L616.57,54.79 L617.57,54.51 L618.57,54.25 L619.57,54.00 L620.57,53.76 L621.57,53.53 L622.57,53.31 L623.56,53.10 L624.56,52.91 L625.56,52.72 L626.56,52.54 L627.56,52.37 L628.56,52.21 L629.56,52.07 L630.56,51.93 L631.56,51.80 L632.55,51.68 L633.55,51.57 L634.55,51.47 L635.55,51.38 L636.55,51.30 L637.55,51.23 L638.55,51.17 L639.55,51.11 L640.55,51.07 L641.54,51.03 L642.54,51.00 L643.54,50.98 L644.54,50.98 L645.54,50.98 L646.54,50.99 L647.54,51.00 L648.54,51.03 L649.54,51.07 L650.53,51.12 L651.53,51.18 L652.53,51.24 L653.53,51.32 L654.53,51.41 L655.53,51.50 L656.53,51.61 L657.53,51.73 L658.53,51.86 L659.52,52.00 L660.52,52.15 L661.52,52.31 L662.52,52.48 L663.52,52.66 L664.52,52.85 L665.52,53.06 L666.52,53.27 L667.52,53.50 L668.51,53.73 L669.51,53.98 L670.51,54.24 L671.51,54.51 L672.51,54.79 L673.51,55.09 L674.51,55.40 L675.51,55.71 L676.51,56.04 L677.50,56.39 L678.50,56.74 L679.50,57.11 L680.50,57.49 L681.50,57.88" fill="none" stroke="#bf78c2" stroke-width="1.1" stroke-linejoin="round" stroke-dasharray="3.8 4.9" clip-path="url(#c3)"/>
<path d="M501.70,101.37 L502.70,101.70 L503.70,102.03 L504.70,102.36 L505.70,102.70 L506.69,103.03 L507.69,103.36 L508.69,103.68 L509.69,104.01 L510.69,104.33 L511.69,104.65 L512.69,104.96 L513.69,105.27 L514.69,105.58 L515.68,105.88 L516.68,106.17 L517.68,106.46 L518.68,106.74 L519.68,107.02 L520.68,107.29 L521.68,107.55 L522.68,107.80 L523.68,108.04 L524.67,108.27 L525.67,108.50 L526.67,108.71 L527.67,108.92 L528.67,109.11 L529.67,109.29 L530.67,109.47 L531.67,109.63 L532.67,109.79 L533.66,109.94 L534.66,110.08 L535.66,110.22 L536.66,110.35 L537.66,110.47 L538.66,110.59 L539.66,110.70 L540.66,110.81 L541.66,110.91 L542.65,111.00 L543.65,111.09 L544.65,111.16 L545.65,111.23 L546.65,111.29 L547.65,111.34 L548.65,111.38 L549.65,111.40 L550.65,111.42 L551.64,111.42 L552.64,111.40 L553.64,111.38 L554.64,111.33 L555.64,111.28 L556.64,111.21 L557.64,111.13 L558.64,111.03 L559.64,110.92 L560.63,110.79 L561.63,110.66 L562.63,110.51 L563.63,110.34 L564.63,110.17 L565.63,109.98 L566.63,109.78 L567.63,109.56 L568.63,109.34 L569.62,109.10 L570.62,108.85 L571.62,108.59 L572.62,108.33 L573.62,108.05 L574.62,107.76 L575.62,107.47 L576.62,107.17 L577.62,106.85 L578.61,106.54 L579.61,106.21 L580.61,105.88 L581.61,105.54 L582.61,105.20 L583.61,104.86 L584.61,104.51 L585.61,104.16 L586.61,103.80 L587.60,103.45 L588.60,103.09 L589.60,102.73 L590.60,102.38 L591.60,102.02 L592.60,101.67 L593.60,101.32 L594.60,100.97 L595.60,100.62 L596.59,100.28 L597.59,99.94 L598.59,99.61 L599.59,99.29 L600.59,98.97 L601.59,98.66 L602.59,98.36 L603.59,98.07 L604.59,97.78 L605.58,97.51 L606.58,97.24 L607.58,96.99 L608.58,96.74 L609.58,96.50 L610.58,96.28 L611.58,96.06 L612.58,95.86 L613.58,95.66 L614.57,95.48 L615.57,95.31 L616.57,95.14 L617.57,94.99 L618.57,94.85 L619.57,94.72 L620.57,94.59 L621.57,94.48 L622.57,94.37 L623.56,94.27 L624.56,94.18 L625.56,94.10 L626.56,94.02 L627.56,93.95 L628.56,93.89 L629.56,93.83 L630.56,93.78 L631.56,93.74 L632.55,93.70 L633.55,93.67 L634.55,93.65 L635.55,93.63 L636.55,93.62 L637.55,93.62 L638.55,93.63 L639.55,93.64 L640.55,93.67 L641.54,93.70 L642.54,93.73 L643.54,93.78 L644.54,93.83 L645.54,93.89 L646.54,93.96 L647.54,94.03 L648.54,94.12 L649.54,94.21 L650.53,94.30 L651.53,94.41 L652.53,94.52 L653.53,94.64 L654.53,94.77 L655.53,94.90 L656.53,95.04 L657.53,95.19 L658.53,95.35 L659.52,95.51 L660.52,95.68 L661.52,95.86 L662.52,96.05 L663.52,96.24 L664.52,96.44 L665.52,96.65 L666.52,96.87 L667.52,97.09 L668.51,97.32 L669.51,97.56 L670.51,97.80 L671.51,98.05 L672.51,98.31 L673.51,98.58 L674.51,98.85 L675.51,99.14 L676.51,99.42 L677.50,99.72 L678.50,100.02 L679.50,100.34 L680.50,100.65 L681.50,100.98" fill="none" stroke="#46b45c" stroke-width="1.15" stroke-linejoin="round" stroke-dasharray="3.8 4.9" clip-path="url(#c3)"/>
<path d="M501.70,100.98 L502.70,101.33 L503.70,101.71 L504.70,102.10 L505.70,102.50 L506.69,102.92 L507.69,103.36 L508.69,103.80 L509.69,104.26 L510.69,104.72 L511.69,105.19 L512.69,105.67 L513.69,106.15 L514.69,106.63 L515.68,107.12 L516.68,107.61 L517.68,108.10 L518.68,108.58 L519.68,109.06 L520.68,109.53 L521.68,110.00 L522.68,110.46 L523.68,110.91 L524.67,111.35 L525.67,111.78 L526.67,112.19 L527.67,112.59 L528.67,112.97 L529.67,113.34 L530.67,113.69 L531.67,114.02 L532.67,114.33 L533.66,114.62 L534.66,114.89 L535.66,115.15 L536.66,115.38 L537.66,115.59 L538.66,115.78 L539.66,115.94 L540.66,116.08 L541.66,116.19 L542.65,116.28 L543.65,116.33 L544.65,116.34 L545.65,116.32 L546.65,116.25 L547.65,116.14 L548.65,115.99 L549.65,115.79 L550.65,115.56 L551.64,115.28 L552.64,114.97 L553.64,114.61 L554.64,114.23 L555.64,113.81 L556.64,113.37 L557.64,112.90 L558.64,112.41 L559.64,111.90 L560.63,111.38 L561.63,110.85 L562.63,110.31 L563.63,109.76 L564.63,109.21 L565.63,108.66 L566.63,108.11 L567.63,107.56 L568.63,107.01 L569.62,106.45 L570.62,105.90 L571.62,105.34 L572.62,104.78 L573.62,104.22 L574.62,103.66 L575.62,103.09 L576.62,102.53 L577.62,101.96 L578.61,101.38 L579.61,100.81 L580.61,100.23 L581.61,99.64 L582.61,99.06 L583.61,98.47 L584.61,97.88 L585.61,97.29 L586.61,96.69 L587.60,96.09 L588.60,95.48 L589.60,94.88 L590.60,94.27 L591.60,93.66 L592.60,93.05 L593.60,92.44 L594.60,91.84 L595.60,91.24 L596.59,90.65 L597.59,90.06 L598.59,89.49 L599.59,88.92 L600.59,88.37 L601.59,87.84 L602.59,87.32 L603.59,86.81 L604.59,86.32 L605.58,85.85 L606.58,85.39 L607.58,84.94 L608.58,84.51 L609.58,84.10 L610.58,83.70 L611.58,83.32 L612.58,82.95 L613.58,82.60 L614.57,82.26 L615.57,81.93 L616.57,81.62 L617.57,81.33 L618.57,81.06 L619.57,80.80 L620.57,80.56 L621.57,80.34 L622.57,80.14 L623.56,79.96 L624.56,79.80 L625.56,79.67 L626.56,79.55 L627.56,79.46 L628.56,79.39 L629.56,79.34 L630.56,79.33 L631.56,79.33 L632.55,79.36 L633.55,79.41 L634.55,79.49 L635.55,79.59 L636.55,79.71 L637.55,79.86 L638.55,80.02 L639.55,80.21 L640.55,80.41 L641.54,80.64 L642.54,80.88 L643.54,81.15 L644.54,81.43 L645.54,81.72 L646.54,82.04 L647.54,82.37 L648.54,82.72 L649.54,83.08 L650.53,83.45 L651.53,83.84 L652.53,84.25 L653.53,84.67 L654.53,85.10 L655.53,85.54 L656.53,86.00 L657.53,86.47 L658.53,86.95 L659.52,87.44 L660.52,87.94 L661.52,88.45 L662.52,88.97 L663.52,89.50 L664.52,90.04 L665.52,90.59 L666.52,91.14 L667.52,91.70 L668.51,92.27 L669.51,92.85 L670.51,93.43 L671.51,94.02 L672.51,94.62 L673.51,95.22 L674.51,95.83 L675.51,96.44 L676.51,97.06 L677.50,97.68 L678.50,98.30 L679.50,98.94 L680.50,99.57 L681.50,100.21" fill="none" stroke="#3558b4" stroke-width="1.4" stroke-linejoin="round" stroke-dasharray="3.8 4.9" clip-path="url(#c3)"/>
<path d="M501.70,129.43 L504.70,130.36 L507.19,131.21 L509.69,129.97 L514.69,131.71 L519.68,132.29 L523.68,133.45 L527.17,133.72 L530.67,134.03 L534.66,135.00 L537.16,134.42 L539.66,134.23 L542.15,135.38 L544.65,136.70 L548.15,129.97 L550.65,136.16 L553.94,130.44 L556.94,136.16 L559.94,131.21 L563.13,136.70 L566.43,129.43 L569.42,135.00 L572.62,134.81 L576.62,134.46 L579.61,132.45 L582.11,134.23 L584.61,132.95 L589.60,131.21 L594.60,130.75 L598.59,129.78 L602.09,129.43 L605.58,127.46 L608.08,129.43 L611.58,128.43 L614.57,128.04 L618.07,127.27 L621.57,127.46 L624.56,126.49 L627.06,126.22 L630.06,126.11 L633.05,124.95 L635.05,125.33 L637.05,123.79 L639.55,125.45 L643.04,124.95 L647.04,124.44 L650.53,126.22 L654.03,125.91 L657.53,126.30 L660.52,126.11 L664.32,126.22 L668.01,128.04 L671.51,127.65 L674.26,127.46 L677.50,128.43 L680.50,128.81 L681.50,128.81" fill="none" stroke="#46b45c" stroke-width="1.2" stroke-linejoin="round" clip-path="url(#c3)"/>
<path d="M501.70,139.44 L508.19,140.22 L514.69,141.18 L520.68,141.76 L527.17,142.46 L531.67,142.73 L535.66,143.19 L539.01,140.45 L542.01,142.96 L545.65,144.20 L550.65,142.96 L554.44,141.18 L559.14,140.80 L564.43,140.45 L570.62,139.83 L576.92,138.67 L579.41,140.45 L582.11,140.22 L585.61,141.18 L589.60,139.95 L596.59,139.64 L601.59,139.25 L608.08,138.48 L614.57,137.97 L621.57,137.70 L627.06,137.32 L631.06,137.12 L634.55,136.70 L637.05,135.96 L639.55,136.93 L644.04,136.74 L651.83,136.93 L658.03,137.70 L664.32,138.21 L666.82,136.70 L669.31,138.21 L674.01,138.67 L680.50,139.44 L681.50,139.64" fill="none" stroke="#ee3a32" stroke-width="1.2" stroke-linejoin="round" clip-path="url(#c3)"/>
<path d="M501.70,124.95 L502.70,125.08 L503.70,125.21 L504.70,125.35 L505.70,125.49 L506.69,125.63 L507.69,125.78 L508.69,125.93 L509.69,126.08 L510.69,126.24 L511.69,126.40 L512.69,126.56 L513.69,126.72 L514.69,126.88 L515.68,127.04 L516.68,127.21 L517.68,127.37 L518.68,127.53 L519.68,127.70 L520.68,127.86 L521.68,128.02 L522.68,128.18 L523.68,128.34 L524.67,128.50 L525.67,128.66 L526.67,128.81 L527.67,128.96 L528.67,129.11 L529.67,129.26 L530.67,129.40 L531.67,129.54 L532.67,129.68 L533.66,129.81 L534.66,129.93 L535.66,130.06 L536.66,130.17 L537.66,130.28 L538.66,130.39 L539.66,130.49 L540.66,130.58 L541.66,130.67 L542.65,130.75 L543.65,130.83 L544.65,130.89 L545.65,130.95 L546.65,131.00 L547.65,131.05 L548.65,131.08 L549.65,131.11 L550.65,131.12 L551.64,131.13 L552.64,131.13 L553.64,131.12 L554.64,131.10 L555.64,131.07 L556.64,131.03 L557.64,130.97 L558.64,130.91 L559.64,130.84 L560.63,130.75 L561.63,130.65 L562.63,130.54 L563.63,130.42 L564.63,130.29 L565.63,130.15 L566.63,129.99 L567.63,129.82 L568.63,129.64 L569.62,129.44 L570.62,129.23 L571.62,129.00 L572.62,128.76 L573.62,128.51 L574.62,128.24 L575.62,127.95 L576.62,127.65 L577.62,127.34 L578.61,127.01 L579.61,126.66 L580.61,126.31 L581.61,125.94 L582.61,125.57 L583.61,125.19 L584.61,124.80 L585.61,124.41 L586.61,124.01 L587.60,123.61 L588.60,123.21 L589.60,122.82 L590.60,122.42 L591.60,122.03 L592.60,121.64 L593.60,121.25 L594.60,120.87 L595.60,120.49 L596.59,120.12 L597.59,119.76 L598.59,119.40 L599.59,119.05 L600.59,118.71 L601.59,118.38 L602.59,118.05 L603.59,117.74 L604.59,117.43 L605.58,117.14 L606.58,116.86 L607.58,116.58 L608.58,116.32 L609.58,116.07 L610.58,115.83 L611.58,115.61 L612.58,115.39 L613.58,115.19 L614.57,115.00 L615.57,114.82 L616.57,114.65 L617.57,114.50 L618.57,114.36 L619.57,114.23 L620.57,114.12 L621.57,114.02 L622.57,113.94 L623.56,113.86 L624.56,113.81 L625.56,113.76 L626.56,113.74 L627.56,113.72 L628.56,113.72 L629.56,113.74 L630.56,113.77 L631.56,113.81 L632.55,113.86 L633.55,113.93 L634.55,114.01 L635.55,114.10 L636.55,114.21 L637.55,114.32 L638.55,114.44 L639.55,114.58 L640.55,114.72 L641.54,114.88 L642.54,115.04 L643.54,115.21 L644.54,115.39 L645.54,115.58 L646.54,115.77 L647.54,115.97 L648.54,116.18 L649.54,116.39 L650.53,116.61 L651.53,116.83 L652.53,117.06 L653.53,117.29 L654.53,117.52 L655.53,117.76 L656.53,118.00 L657.53,118.25 L658.53,118.49 L659.52,118.75 L660.52,119.00 L661.52,119.26 L662.52,119.52 L663.52,119.79 L664.52,120.06 L665.52,120.33 L666.52,120.60 L667.52,120.88 L668.51,121.15 L669.51,121.44 L670.51,121.72 L671.51,122.00 L672.51,122.29 L673.51,122.58 L674.51,122.87 L675.51,123.16 L676.51,123.46 L677.50,123.75 L678.50,124.05 L679.50,124.35 L680.50,124.65 L681.50,124.95" fill="none" stroke="#3558b4" stroke-width="1.4" stroke-linejoin="round" clip-path="url(#c3)"/>
<path d="M501.70,124.95 L502.70,125.09 L503.70,125.24 L504.70,125.39 L505.70,125.55 L506.69,125.70 L507.69,125.86 L508.69,126.01 L509.69,126.17 L510.69,126.33 L511.69,126.49 L512.69,126.65 L513.69,126.81 L514.69,126.97 L515.68,127.13 L516.68,127.29 L517.68,127.45 L518.68,127.61 L519.68,127.76 L520.68,127.92 L521.68,128.07 L522.68,128.23 L523.68,128.38 L524.67,128.52 L525.67,128.67 L526.67,128.81 L527.67,128.95 L528.67,129.09 L529.67,129.23 L530.67,129.36 L531.67,129.48 L532.67,129.61 L533.66,129.73 L534.66,129.84 L535.66,129.95 L536.66,130.06 L537.66,130.16 L538.66,130.26 L539.66,130.35 L540.66,130.43 L541.66,130.51 L542.65,130.58 L543.65,130.65 L544.65,130.71 L545.65,130.77 L546.65,130.81 L547.65,130.85 L548.65,130.89 L549.65,130.91 L550.65,130.93 L551.64,130.94 L552.64,130.94 L553.64,130.93 L554.64,130.92 L555.64,130.90 L556.64,130.87 L557.64,130.83 L558.64,130.78 L559.64,130.72 L560.63,130.66 L561.63,130.58 L562.63,130.50 L563.63,130.41 L564.63,130.31 L565.63,130.20 L566.63,130.08 L567.63,129.96 L568.63,129.83 L569.62,129.69 L570.62,129.55 L571.62,129.40 L572.62,129.25 L573.62,129.10 L574.62,128.94 L575.62,128.78 L576.62,128.62 L577.62,128.46 L578.61,128.30 L579.61,128.13 L580.61,127.97 L581.61,127.80 L582.61,127.64 L583.61,127.47 L584.61,127.29 L585.61,127.12 L586.61,126.95 L587.60,126.77 L588.60,126.59 L589.60,126.40 L590.60,126.21 L591.60,126.03 L592.60,125.83 L593.60,125.64 L594.60,125.45 L595.60,125.26 L596.59,125.07 L597.59,124.89 L598.59,124.70 L599.59,124.52 L600.59,124.35 L601.59,124.17 L602.59,124.01 L603.59,123.85 L604.59,123.69 L605.58,123.54 L606.58,123.39 L607.58,123.25 L608.58,123.12 L609.58,122.98 L610.58,122.85 L611.58,122.73 L612.58,122.61 L613.58,122.49 L614.57,122.38 L615.57,122.27 L616.57,122.16 L617.57,122.06 L618.57,121.96 L619.57,121.86 L620.57,121.77 L621.57,121.68 L622.57,121.59 L623.56,121.51 L624.56,121.43 L625.56,121.35 L626.56,121.28 L627.56,121.20 L628.56,121.14 L629.56,121.07 L630.56,121.01 L631.56,120.96 L632.55,120.91 L633.55,120.86 L634.55,120.82 L635.55,120.79 L636.55,120.76 L637.55,120.73 L638.55,120.71 L639.55,120.70 L640.55,120.69 L641.54,120.70 L642.54,120.70 L643.54,120.72 L644.54,120.74 L645.54,120.77 L646.54,120.80 L647.54,120.84 L648.54,120.89 L649.54,120.95 L650.53,121.01 L651.53,121.08 L652.53,121.16 L653.53,121.24 L654.53,121.33 L655.53,121.43 L656.53,121.53 L657.53,121.63 L658.53,121.75 L659.52,121.86 L660.52,121.98 L661.52,122.11 L662.52,122.24 L663.52,122.37 L664.52,122.50 L665.52,122.64 L666.52,122.78 L667.52,122.92 L668.51,123.07 L669.51,123.21 L670.51,123.36 L671.51,123.50 L672.51,123.65 L673.51,123.80 L674.51,123.95 L675.51,124.09 L676.51,124.24 L677.50,124.39 L678.50,124.53 L679.50,124.67 L680.50,124.81 L681.50,124.95" fill="none" stroke="#ee3a32" stroke-width="1.15" stroke-linejoin="round" stroke-dasharray="3.8 4.9" clip-path="url(#c3)"/>
<path d="M501.70,110.06 L514.19,110.64 L527.17,111.22 L539.16,112.19 L551.64,112.96 L561.63,113.54 L566.63,113.93 L568.63,115.28 L570.62,116.21 L576.62,116.25 L584.61,116.25 L589.60,116.13 L596.59,115.28 L599.59,114.51 L602.09,113.35 L606.08,113.35 L608.58,115.28 L616.07,114.51 L626.06,114.12 L639.55,113.35 L646.54,112.38 L651.53,111.80 L664.02,112.00 L674.01,111.42 L677.50,110.84 L680.50,109.48 L681.50,109.10" fill="none" stroke="#bf78c2" stroke-width="1.25" stroke-linejoin="round" clip-path="url(#c3)"/>
<path d="M501.70,155.1 v-2.2 M501.70,19.8 v2.2 M506.69,155.1 v-2.2 M506.69,19.8 v2.2 M511.69,155.1 v-2.2 M511.69,19.8 v2.2 M516.68,155.1 v-2.2 M516.68,19.8 v2.2 M521.68,155.1 v-2.2 M521.68,19.8 v2.2 M526.67,155.1 v-2.2 M526.67,19.8 v2.2 M531.67,155.1 v-2.2 M531.67,19.8 v2.2 M536.66,155.1 v-2.2 M536.66,19.8 v2.2 M541.66,155.1 v-2.2 M541.66,19.8 v2.2 M546.65,155.1 v-2.2 M546.65,19.8 v2.2 M551.64,155.1 v-2.2 M551.64,19.8 v2.2 M556.64,155.1 v-2.2 M556.64,19.8 v2.2 M561.63,155.1 v-2.2 M561.63,19.8 v2.2 M566.63,155.1 v-2.2 M566.63,19.8 v2.2 M571.62,155.1 v-2.2 M571.62,19.8 v2.2 M576.62,155.1 v-2.2 M576.62,19.8 v2.2 M581.61,155.1 v-2.2 M581.61,19.8 v2.2 M586.61,155.1 v-2.2 M586.61,19.8 v2.2 M591.60,155.1 v-2.2 M591.60,19.8 v2.2 M596.59,155.1 v-2.2 M596.59,19.8 v2.2 M601.59,155.1 v-2.2 M601.59,19.8 v2.2 M606.58,155.1 v-2.2 M606.58,19.8 v2.2 M611.58,155.1 v-2.2 M611.58,19.8 v2.2 M616.57,155.1 v-2.2 M616.57,19.8 v2.2 M621.57,155.1 v-2.2 M621.57,19.8 v2.2 M626.56,155.1 v-2.2 M626.56,19.8 v2.2 M631.56,155.1 v-2.2 M631.56,19.8 v2.2 M636.55,155.1 v-2.2 M636.55,19.8 v2.2 M641.54,155.1 v-2.2 M641.54,19.8 v2.2 M646.54,155.1 v-2.2 M646.54,19.8 v2.2 M651.53,155.1 v-2.2 M651.53,19.8 v2.2 M656.53,155.1 v-2.2 M656.53,19.8 v2.2 M661.52,155.1 v-2.2 M661.52,19.8 v2.2 M666.52,155.1 v-2.2 M666.52,19.8 v2.2 M671.51,155.1 v-2.2 M671.51,19.8 v2.2 M676.51,155.1 v-2.2 M676.51,19.8 v2.2 M681.50,155.1 v-2.2 M681.50,19.8 v2.2 M501.70,155.1 v-4.3 M501.70,19.8 v4.3 M526.67,155.1 v-4.3 M526.67,19.8 v4.3 M551.64,155.1 v-4.3 M551.64,19.8 v4.3 M576.62,155.1 v-4.3 M576.62,19.8 v4.3 M601.59,155.1 v-4.3 M601.59,19.8 v4.3 M626.56,155.1 v-4.3 M626.56,19.8 v4.3 M651.53,155.1 v-4.3 M651.53,19.8 v4.3 M676.51,155.1 v-4.3 M676.51,19.8 v4.3 M501.7,155.10 h2.2 M681.5,155.10 h-2.2 M501.7,151.23 h2.2 M681.5,151.23 h-2.2 M501.7,147.37 h2.2 M681.5,147.37 h-2.2 M501.7,143.50 h2.2 M681.5,143.50 h-2.2 M501.7,139.64 h2.2 M681.5,139.64 h-2.2 M501.7,135.77 h2.2 M681.5,135.77 h-2.2 M501.7,131.91 h2.2 M681.5,131.91 h-2.2 M501.7,128.04 h2.2 M681.5,128.04 h-2.2 M501.7,124.17 h2.2 M681.5,124.17 h-2.2 M501.7,120.31 h2.2 M681.5,120.31 h-2.2 M501.7,116.44 h2.2 M681.5,116.44 h-2.2 M501.7,112.58 h2.2 M681.5,112.58 h-2.2 M501.7,108.71 h2.2 M681.5,108.71 h-2.2 M501.7,104.85 h2.2 M681.5,104.85 h-2.2 M501.7,100.98 h2.2 M681.5,100.98 h-2.2 M501.7,97.11 h2.2 M681.5,97.11 h-2.2 M501.7,93.25 h2.2 M681.5,93.25 h-2.2 M501.7,89.38 h2.2 M681.5,89.38 h-2.2 M501.7,85.52 h2.2 M681.5,85.52 h-2.2 M501.7,81.65 h2.2 M681.5,81.65 h-2.2 M501.7,77.79 h2.2 M681.5,77.79 h-2.2 M501.7,73.92 h2.2 M681.5,73.92 h-2.2 M501.7,70.05 h2.2 M681.5,70.05 h-2.2 M501.7,66.19 h2.2 M681.5,66.19 h-2.2 M501.7,62.32 h2.2 M681.5,62.32 h-2.2 M501.7,58.46 h2.2 M681.5,58.46 h-2.2 M501.7,54.59 h2.2 M681.5,54.59 h-2.2 M501.7,50.73 h2.2 M681.5,50.73 h-2.2 M501.7,46.86 h2.2 M681.5,46.86 h-2.2 M501.7,42.99 h2.2 M681.5,42.99 h-2.2 M501.7,39.13 h2.2 M681.5,39.13 h-2.2 M501.7,35.26 h2.2 M681.5,35.26 h-2.2 M501.7,31.40 h2.2 M681.5,31.40 h-2.2 M501.7,27.53 h2.2 M681.5,27.53 h-2.2 M501.7,23.67 h2.2 M681.5,23.67 h-2.2 M501.7,19.80 h2.2 M681.5,19.80 h-2.2 M501.7,155.10 h4.3 M681.5,155.10 h-4.3 M501.7,135.77 h4.3 M681.5,135.77 h-4.3 M501.7,116.44 h4.3 M681.5,116.44 h-4.3 M501.7,97.11 h4.3 M681.5,97.11 h-4.3 M501.7,77.79 h4.3 M681.5,77.79 h-4.3 M501.7,58.46 h4.3 M681.5,58.46 h-4.3 M501.7,39.13 h4.3 M681.5,39.13 h-4.3 M501.7,19.80 h4.3 M681.5,19.80 h-4.3" stroke="#000" stroke-width="1.2" fill="none"/>
<rect x="501.7" y="19.8" width="179.8" height="135.29999999999998" fill="none" stroke="#000" stroke-width="1.4"/>
<text transform="translate(502.6,166.7) scale(0.89,1)" font-size="9.2" text-anchor="middle" font-weight="bold">0</text>
<text transform="translate(527.6,166.7) scale(0.89,1)" font-size="9.2" text-anchor="middle" font-weight="bold">50</text>
<text transform="translate(552.5,166.7) scale(0.89,1)" font-size="9.2" text-anchor="middle" font-weight="bold">100</text>
<text transform="translate(577.5,166.7) scale(0.89,1)" font-size="9.2" text-anchor="middle" font-weight="bold">150</text>
<text transform="translate(602.5,166.7) scale(0.89,1)" font-size="9.2" text-anchor="middle" font-weight="bold">200</text>
<text transform="translate(627.5,166.7) scale(0.89,1)" font-size="9.2" text-anchor="middle" font-weight="bold">250</text>
<text transform="translate(652.4,166.7) scale(0.89,1)" font-size="9.2" text-anchor="middle" font-weight="bold">300</text>
<text transform="translate(677.4,166.7) scale(0.89,1)" font-size="9.2" text-anchor="middle" font-weight="bold">350</text>
<text transform="translate(496.1,157.7) scale(0.89,1)" font-size="9.2" text-anchor="end" font-weight="bold">0</text>
<text transform="translate(496.1,138.4) scale(0.89,1)" font-size="9.2" text-anchor="end" font-weight="bold">5</text>
<text transform="translate(496.1,119.0) scale(0.89,1)" font-size="9.2" text-anchor="end" font-weight="bold">10</text>
<text transform="translate(496.1,99.7) scale(0.89,1)" font-size="9.2" text-anchor="end" font-weight="bold">15</text>
<text transform="translate(496.1,80.4) scale(0.89,1)" font-size="9.2" text-anchor="end" font-weight="bold">20</text>
<text transform="translate(496.1,61.1) scale(0.89,1)" font-size="9.2" text-anchor="end" font-weight="bold">25</text>
<text transform="translate(496.1,41.7) scale(0.89,1)" font-size="9.2" text-anchor="end" font-weight="bold">30</text>
<text transform="translate(496.1,22.4) scale(0.89,1)" font-size="9.2" text-anchor="end" font-weight="bold">35</text>
<path d="M509.5,3.9 H546.7" stroke="#000" stroke-width="1.1"/>
<text x="550.6" y="8.1" font-size="11.2" text-anchor="start">SI+Sterile</text>
<path d="M606.0,3.8 H645.0" stroke="#000" stroke-width="1.1" stroke-dasharray="4.4 4.2"/>
<text x="650.7" y="8.1" font-size="11.2" text-anchor="start">SI</text>
<text x="533.8" y="30.9" font-size="7.6" text-anchor="end" font-weight="bold">DUNE</text>
<path d="M537.5,28.2 H559.4" stroke="#3558b4" stroke-width="1.4" stroke-dasharray="4 4.75"/>
<text x="533.8" y="40.3" font-size="7.6" text-anchor="end" font-weight="bold">P2O</text>
<path d="M537.5,37.6 H559.4" stroke="#ee3a32" stroke-width="1.2" stroke-dasharray="4 4.75"/>
<text x="533.8" y="49.8" font-size="7.6" text-anchor="end" font-weight="bold">Up P2O</text>
<path d="M537.5,47.1 H559.4" stroke="#46b45c" stroke-width="1.2" stroke-dasharray="4 4.75"/>
<text x="533.8" y="59.2" font-size="7.6" text-anchor="end" font-weight="bold">P2SO</text>
<path d="M537.5,56.5 H559.4" stroke="#bf78c2" stroke-width="1.1" stroke-dasharray="4 4.75"/>
<text x="662.5" y="34.7" font-size="8.5" text-anchor="end" font-weight="bold"><tspan font-weight="normal" font-size="9.52">Δ</tspan>m<tspan dy="-3.7" font-size="6.80">2</tspan><tspan dy="5.9" dx="0.4" font-size="6.80">41</tspan><tspan dy="-2.2">=10eV</tspan><tspan dy="-3.7" font-size="6.80">2</tspan><tspan dy="3.7">(FD)</tspan></text>
<text x="591" y="178.7" font-size="10.75" text-anchor="middle">δ<tspan dy="3.1" font-size="9.2">CP</tspan><tspan dy="-3.1"> (degree)</tspan></text>
<text transform="translate(477.7,91.0) rotate(-90)" font-size="11.5">σ</text>
<clipPath id="c4"><rect x="267.4" y="218.9" width="179.90000000000003" height="135.29999999999998"/></clipPath>
<path d="M267.40,256.78 L268.40,257.11 L269.40,257.43 L270.40,257.75 L271.40,258.07 L272.40,258.39 L273.40,258.70 L274.40,259.02 L275.40,259.34 L276.39,259.65 L277.39,259.96 L278.39,260.27 L279.39,260.58 L280.39,260.89 L281.39,261.19 L282.39,261.49 L283.39,261.79 L284.39,262.09 L285.39,262.38 L286.39,262.67 L287.39,262.95 L288.39,263.23 L289.39,263.51 L290.39,263.79 L291.39,264.06 L292.39,264.32 L293.39,264.58 L294.38,264.84 L295.38,265.09 L296.38,265.34 L297.38,265.58 L298.38,265.82 L299.38,266.05 L300.38,266.28 L301.38,266.50 L302.38,266.71 L303.38,266.92 L304.38,267.12 L305.38,267.31 L306.38,267.50 L307.38,267.68 L308.38,267.86 L309.38,268.03 L310.38,268.19 L311.38,268.34 L312.38,268.49 L313.37,268.62 L314.37,268.75 L315.37,268.87 L316.37,268.98 L317.37,269.09 L318.37,269.18 L319.37,269.26 L320.37,269.33 L321.37,269.40 L322.37,269.45 L323.37,269.49 L324.37,269.52 L325.37,269.53 L326.37,269.54 L327.37,269.53 L328.37,269.52 L329.37,269.48 L330.37,269.44 L331.36,269.38 L332.36,269.31 L333.36,269.23 L334.36,269.13 L335.36,269.02 L336.36,268.89 L337.36,268.75 L338.36,268.59 L339.36,268.42 L340.36,268.23 L341.36,268.02 L342.36,267.80 L343.36,267.56 L344.36,267.31 L345.36,267.04 L346.36,266.76 L347.36,266.47 L348.36,266.16 L349.35,265.84 L350.35,265.51 L351.35,265.18 L352.35,264.83 L353.35,264.47 L354.35,264.11 L355.35,263.74 L356.35,263.37 L357.35,262.99 L358.35,262.60 L359.35,262.22 L360.35,261.83 L361.35,261.44 L362.35,261.04 L363.35,260.65 L364.35,260.25 L365.35,259.86 L366.35,259.47 L367.34,259.08 L368.34,258.69 L369.34,258.30 L370.34,257.92 L371.34,257.54 L372.34,257.17 L373.34,256.81 L374.34,256.45 L375.34,256.09 L376.34,255.75 L377.34,255.41 L378.34,255.09 L379.34,254.77 L380.34,254.46 L381.34,254.17 L382.34,253.89 L383.34,253.61 L384.34,253.35 L385.33,253.10 L386.33,252.86 L387.33,252.63 L388.33,252.41 L389.33,252.20 L390.33,252.01 L391.33,251.82 L392.33,251.64 L393.33,251.47 L394.33,251.31 L395.33,251.17 L396.33,251.03 L397.33,250.90 L398.33,250.78 L399.33,250.67 L400.33,250.57 L401.33,250.48 L402.32,250.40 L403.32,250.33 L404.32,250.27 L405.32,250.21 L406.32,250.17 L407.32,250.13 L408.32,250.10 L409.32,250.08 L410.32,250.08 L411.32,250.08 L412.32,250.09 L413.32,250.10 L414.32,250.13 L415.32,250.17 L416.32,250.22 L417.32,250.28 L418.32,250.34 L419.32,250.42 L420.31,250.51 L421.31,250.60 L422.31,250.71 L423.31,250.83 L424.31,250.96 L425.31,251.10 L426.31,251.25 L427.31,251.41 L428.31,251.58 L429.31,251.76 L430.31,251.95 L431.31,252.16 L432.31,252.37 L433.31,252.60 L434.31,252.83 L435.31,253.08 L436.31,253.34 L437.31,253.61 L438.31,253.89 L439.30,254.19 L440.30,254.50 L441.30,254.81 L442.30,255.14 L443.30,255.49 L444.30,255.84 L445.30,256.21 L446.30,256.59 L447.30,256.98" fill="none" stroke="#bf78c2" stroke-width="1.1" stroke-linejoin="round" stroke-dasharray="3.8 4.9" clip-path="url(#c4)"/>
<path d="M267.40,300.47 L268.40,300.80 L269.40,301.13 L270.40,301.46 L271.40,301.80 L272.40,302.13 L273.40,302.46 L274.40,302.78 L275.40,303.11 L276.39,303.43 L277.39,303.75 L278.39,304.06 L279.39,304.37 L280.39,304.68 L281.39,304.98 L282.39,305.27 L283.39,305.56 L284.39,305.84 L285.39,306.12 L286.39,306.39 L287.39,306.65 L288.39,306.90 L289.39,307.14 L290.39,307.37 L291.39,307.60 L292.39,307.81 L293.39,308.02 L294.38,308.21 L295.38,308.39 L296.38,308.57 L297.38,308.73 L298.38,308.89 L299.38,309.04 L300.38,309.18 L301.38,309.32 L302.38,309.45 L303.38,309.57 L304.38,309.69 L305.38,309.80 L306.38,309.91 L307.38,310.01 L308.38,310.10 L309.38,310.19 L310.38,310.26 L311.38,310.33 L312.38,310.39 L313.37,310.44 L314.37,310.48 L315.37,310.50 L316.37,310.52 L317.37,310.52 L318.37,310.50 L319.37,310.48 L320.37,310.43 L321.37,310.38 L322.37,310.31 L323.37,310.23 L324.37,310.13 L325.37,310.02 L326.37,309.89 L327.37,309.76 L328.37,309.61 L329.37,309.44 L330.37,309.27 L331.36,309.08 L332.36,308.88 L333.36,308.66 L334.36,308.44 L335.36,308.20 L336.36,307.95 L337.36,307.69 L338.36,307.43 L339.36,307.15 L340.36,306.86 L341.36,306.57 L342.36,306.27 L343.36,305.95 L344.36,305.64 L345.36,305.31 L346.36,304.98 L347.36,304.64 L348.36,304.30 L349.35,303.96 L350.35,303.61 L351.35,303.26 L352.35,302.90 L353.35,302.55 L354.35,302.19 L355.35,301.83 L356.35,301.48 L357.35,301.12 L358.35,300.77 L359.35,300.42 L360.35,300.07 L361.35,299.72 L362.35,299.38 L363.35,299.04 L364.35,298.71 L365.35,298.39 L366.35,298.07 L367.34,297.76 L368.34,297.46 L369.34,297.17 L370.34,296.88 L371.34,296.61 L372.34,296.34 L373.34,296.09 L374.34,295.84 L375.34,295.60 L376.34,295.38 L377.34,295.16 L378.34,294.96 L379.34,294.76 L380.34,294.58 L381.34,294.41 L382.34,294.24 L383.34,294.09 L384.34,293.95 L385.33,293.82 L386.33,293.69 L387.33,293.58 L388.33,293.47 L389.33,293.37 L390.33,293.28 L391.33,293.20 L392.33,293.12 L393.33,293.05 L394.33,292.99 L395.33,292.93 L396.33,292.88 L397.33,292.84 L398.33,292.80 L399.33,292.77 L400.33,292.75 L401.33,292.73 L402.32,292.72 L403.32,292.72 L404.32,292.73 L405.32,292.74 L406.32,292.77 L407.32,292.80 L408.32,292.83 L409.32,292.88 L410.32,292.93 L411.32,292.99 L412.32,293.06 L413.32,293.13 L414.32,293.22 L415.32,293.31 L416.32,293.40 L417.32,293.51 L418.32,293.62 L419.32,293.74 L420.31,293.87 L421.31,294.00 L422.31,294.14 L423.31,294.29 L424.31,294.45 L425.31,294.61 L426.31,294.78 L427.31,294.96 L428.31,295.15 L429.31,295.34 L430.31,295.54 L431.31,295.75 L432.31,295.97 L433.31,296.19 L434.31,296.42 L435.31,296.66 L436.31,296.90 L437.31,297.15 L438.31,297.41 L439.30,297.68 L440.30,297.95 L441.30,298.24 L442.30,298.52 L443.30,298.82 L444.30,299.12 L445.30,299.44 L446.30,299.75 L447.30,300.08" fill="none" stroke="#46b45c" stroke-width="1.15" stroke-linejoin="round" stroke-dasharray="3.8 4.9" clip-path="url(#c4)"/>
<path d="M267.40,324.05 L268.40,324.19 L269.40,324.34 L270.40,324.49 L271.40,324.65 L272.40,324.80 L273.40,324.96 L274.40,325.11 L275.40,325.27 L276.39,325.43 L277.39,325.59 L278.39,325.75 L279.39,325.91 L280.39,326.07 L281.39,326.23 L282.39,326.39 L283.39,326.55 L284.39,326.71 L285.39,326.86 L286.39,327.02 L287.39,327.17 L288.39,327.33 L289.39,327.48 L290.39,327.62 L291.39,327.77 L292.39,327.91 L293.39,328.05 L294.38,328.19 L295.38,328.33 L296.38,328.46 L297.38,328.58 L298.38,328.71 L299.38,328.83 L300.38,328.94 L301.38,329.05 L302.38,329.16 L303.38,329.26 L304.38,329.36 L305.38,329.45 L306.38,329.53 L307.38,329.61 L308.38,329.68 L309.38,329.75 L310.38,329.81 L311.38,329.87 L312.38,329.91 L313.37,329.95 L314.37,329.99 L315.37,330.01 L316.37,330.03 L317.37,330.04 L318.37,330.04 L319.37,330.03 L320.37,330.02 L321.37,330.00 L322.37,329.97 L323.37,329.93 L324.37,329.88 L325.37,329.82 L326.37,329.76 L327.37,329.68 L328.37,329.60 L329.37,329.51 L330.37,329.41 L331.36,329.30 L332.36,329.18 L333.36,329.06 L334.36,328.93 L335.36,328.79 L336.36,328.65 L337.36,328.50 L338.36,328.35 L339.36,328.20 L340.36,328.04 L341.36,327.88 L342.36,327.72 L343.36,327.56 L344.36,327.40 L345.36,327.23 L346.36,327.07 L347.36,326.90 L348.36,326.74 L349.35,326.57 L350.35,326.39 L351.35,326.22 L352.35,326.05 L353.35,325.87 L354.35,325.69 L355.35,325.50 L356.35,325.31 L357.35,325.13 L358.35,324.93 L359.35,324.74 L360.35,324.55 L361.35,324.36 L362.35,324.17 L363.35,323.99 L364.35,323.80 L365.35,323.62 L366.35,323.45 L367.34,323.27 L368.34,323.11 L369.34,322.95 L370.34,322.79 L371.34,322.64 L372.34,322.49 L373.34,322.35 L374.34,322.22 L375.34,322.08 L376.34,321.95 L377.34,321.83 L378.34,321.71 L379.34,321.59 L380.34,321.48 L381.34,321.37 L382.34,321.26 L383.34,321.16 L384.34,321.06 L385.33,320.96 L386.33,320.87 L387.33,320.78 L388.33,320.69 L389.33,320.61 L390.33,320.53 L391.33,320.45 L392.33,320.38 L393.33,320.30 L394.33,320.24 L395.33,320.17 L396.33,320.11 L397.33,320.06 L398.33,320.01 L399.33,319.96 L400.33,319.92 L401.33,319.89 L402.32,319.86 L403.32,319.83 L404.32,319.81 L405.32,319.80 L406.32,319.79 L407.32,319.80 L408.32,319.80 L409.32,319.82 L410.32,319.84 L411.32,319.87 L412.32,319.90 L413.32,319.94 L414.32,319.99 L415.32,320.05 L416.32,320.11 L417.32,320.18 L418.32,320.26 L419.32,320.34 L420.31,320.43 L421.31,320.53 L422.31,320.63 L423.31,320.73 L424.31,320.85 L425.31,320.96 L426.31,321.08 L427.31,321.21 L428.31,321.34 L429.31,321.47 L430.31,321.60 L431.31,321.74 L432.31,321.88 L433.31,322.02 L434.31,322.17 L435.31,322.31 L436.31,322.46 L437.31,322.60 L438.31,322.75 L439.30,322.90 L440.30,323.05 L441.30,323.19 L442.30,323.34 L443.30,323.49 L444.30,323.63 L445.30,323.77 L446.30,323.91 L447.30,324.05" fill="none" stroke="#ee3a32" stroke-width="1.15" stroke-linejoin="round" stroke-dasharray="3.8 4.9" clip-path="url(#c4)"/>
<path d="M267.40,300.08 L268.40,300.43 L269.40,300.81 L270.40,301.20 L271.40,301.60 L272.40,302.02 L273.40,302.46 L274.40,302.90 L275.40,303.36 L276.39,303.82 L277.39,304.29 L278.39,304.77 L279.39,305.25 L280.39,305.73 L281.39,306.22 L282.39,306.71 L283.39,307.20 L284.39,307.68 L285.39,308.16 L286.39,308.63 L287.39,309.10 L288.39,309.56 L289.39,310.01 L290.39,310.45 L291.39,310.88 L292.39,311.29 L293.39,311.69 L294.38,312.07 L295.38,312.44 L296.38,312.79 L297.38,313.12 L298.38,313.43 L299.38,313.72 L300.38,313.99 L301.38,314.25 L302.38,314.48 L303.38,314.69 L304.38,314.88 L305.38,315.04 L306.38,315.18 L307.38,315.29 L308.38,315.38 L309.38,315.43 L310.38,315.44 L311.38,315.42 L312.38,315.35 L313.37,315.24 L314.37,315.09 L315.37,314.89 L316.37,314.66 L317.37,314.38 L318.37,314.07 L319.37,313.71 L320.37,313.33 L321.37,312.91 L322.37,312.47 L323.37,312.00 L324.37,311.51 L325.37,311.00 L326.37,310.48 L327.37,309.95 L328.37,309.41 L329.37,308.86 L330.37,308.31 L331.36,307.76 L332.36,307.21 L333.36,306.66 L334.36,306.11 L335.36,305.55 L336.36,305.00 L337.36,304.44 L338.36,303.88 L339.36,303.32 L340.36,302.76 L341.36,302.19 L342.36,301.63 L343.36,301.06 L344.36,300.48 L345.36,299.91 L346.36,299.33 L347.36,298.74 L348.36,298.16 L349.35,297.57 L350.35,296.98 L351.35,296.39 L352.35,295.79 L353.35,295.19 L354.35,294.58 L355.35,293.98 L356.35,293.37 L357.35,292.76 L358.35,292.15 L359.35,291.54 L360.35,290.94 L361.35,290.34 L362.35,289.75 L363.35,289.16 L364.35,288.59 L365.35,288.02 L366.35,287.47 L367.34,286.94 L368.34,286.42 L369.34,285.91 L370.34,285.42 L371.34,284.95 L372.34,284.49 L373.34,284.04 L374.34,283.61 L375.34,283.20 L376.34,282.80 L377.34,282.42 L378.34,282.05 L379.34,281.70 L380.34,281.36 L381.34,281.03 L382.34,280.72 L383.34,280.43 L384.34,280.16 L385.33,279.90 L386.33,279.66 L387.33,279.44 L388.33,279.24 L389.33,279.06 L390.33,278.90 L391.33,278.77 L392.33,278.65 L393.33,278.56 L394.33,278.49 L395.33,278.44 L396.33,278.43 L397.33,278.43 L398.33,278.46 L399.33,278.51 L400.33,278.59 L401.33,278.69 L402.32,278.81 L403.32,278.96 L404.32,279.12 L405.32,279.31 L406.32,279.51 L407.32,279.74 L408.32,279.98 L409.32,280.25 L410.32,280.53 L411.32,280.82 L412.32,281.14 L413.32,281.47 L414.32,281.82 L415.32,282.18 L416.32,282.55 L417.32,282.94 L418.32,283.35 L419.32,283.77 L420.31,284.20 L421.31,284.64 L422.31,285.10 L423.31,285.57 L424.31,286.05 L425.31,286.54 L426.31,287.04 L427.31,287.55 L428.31,288.07 L429.31,288.60 L430.31,289.14 L431.31,289.69 L432.31,290.24 L433.31,290.80 L434.31,291.37 L435.31,291.95 L436.31,292.53 L437.31,293.12 L438.31,293.72 L439.30,294.32 L440.30,294.93 L441.30,295.54 L442.30,296.16 L443.30,296.78 L444.30,297.40 L445.30,298.04 L446.30,298.67 L447.30,299.31" fill="none" stroke="#3558b4" stroke-width="1.4" stroke-linejoin="round" stroke-dasharray="3.8 4.9" clip-path="url(#c4)"/>
<path d="M267.40,262.20 L268.40,262.43 L269.40,262.67 L270.40,262.91 L271.40,263.16 L272.40,263.42 L273.40,263.67 L274.40,263.93 L275.40,264.20 L276.39,264.47 L277.39,264.74 L278.39,265.02 L279.39,265.30 L280.39,265.58 L281.39,265.86 L282.39,266.15 L283.39,266.44 L284.39,266.73 L285.39,267.02 L286.39,267.31 L287.39,267.61 L288.39,267.90 L289.39,268.20 L290.39,268.50 L291.39,268.79 L292.39,269.09 L293.39,269.39 L294.38,269.68 L295.38,269.98 L296.38,270.28 L297.38,270.57 L298.38,270.86 L299.38,271.15 L300.38,271.44 L301.38,271.73 L302.38,272.02 L303.38,272.30 L304.38,272.58 L305.38,272.86 L306.38,273.13 L307.38,273.41 L308.38,273.67 L309.38,273.94 L310.38,274.20 L311.38,274.45 L312.38,274.70 L313.37,274.95 L314.37,275.18 L315.37,275.41 L316.37,275.63 L317.37,275.85 L318.37,276.05 L319.37,276.25 L320.37,276.44 L321.37,276.61 L322.37,276.78 L323.37,276.94 L324.37,277.08 L325.37,277.21 L326.37,277.33 L327.37,277.44 L328.37,277.53 L329.37,277.62 L330.37,277.69 L331.36,277.75 L332.36,277.80 L333.36,277.83 L334.36,277.85 L335.36,277.86 L336.36,277.86 L337.36,277.84 L338.36,277.80 L339.36,277.75 L340.36,277.68 L341.36,277.59 L342.36,277.47 L343.36,277.33 L344.36,277.17 L345.36,276.98 L346.36,276.77 L347.36,276.53 L348.36,276.27 L349.35,275.98 L350.35,275.68 L351.35,275.37 L352.35,275.04 L353.35,274.69 L354.35,274.33 L355.35,273.97 L356.35,273.59 L357.35,273.21 L358.35,272.83 L359.35,272.44 L360.35,272.05 L361.35,271.67 L362.35,271.28 L363.35,270.90 L364.35,270.51 L365.35,270.13 L366.35,269.75 L367.34,269.38 L368.34,269.00 L369.34,268.63 L370.34,268.27 L371.34,267.90 L372.34,267.55 L373.34,267.19 L374.34,266.85 L375.34,266.51 L376.34,266.17 L377.34,265.84 L378.34,265.52 L379.34,265.20 L380.34,264.89 L381.34,264.59 L382.34,264.30 L383.34,264.02 L384.34,263.74 L385.33,263.48 L386.33,263.22 L387.33,262.97 L388.33,262.73 L389.33,262.50 L390.33,262.28 L391.33,262.07 L392.33,261.86 L393.33,261.66 L394.33,261.48 L395.33,261.29 L396.33,261.12 L397.33,260.95 L398.33,260.79 L399.33,260.64 L400.33,260.50 L401.33,260.36 L402.32,260.23 L403.32,260.10 L404.32,259.99 L405.32,259.88 L406.32,259.77 L407.32,259.67 L408.32,259.58 L409.32,259.49 L410.32,259.41 L411.32,259.33 L412.32,259.26 L413.32,259.20 L414.32,259.14 L415.32,259.09 L416.32,259.04 L417.32,259.00 L418.32,258.97 L419.32,258.94 L420.31,258.93 L421.31,258.91 L422.31,258.91 L423.31,258.91 L424.31,258.92 L425.31,258.94 L426.31,258.96 L427.31,259.00 L428.31,259.04 L429.31,259.09 L430.31,259.15 L431.31,259.22 L432.31,259.30 L433.31,259.39 L434.31,259.49 L435.31,259.60 L436.31,259.72 L437.31,259.85 L438.31,259.99 L439.30,260.15 L440.30,260.31 L441.30,260.49 L442.30,260.68 L443.30,260.88 L444.30,261.09 L445.30,261.32 L446.30,261.56 L447.30,261.81" fill="none" stroke="#bf78c2" stroke-width="1.25" stroke-linejoin="round" clip-path="url(#c4)"/>
<path d="M267.40,301.63 L268.40,301.80 L269.40,301.98 L270.40,302.17 L271.40,302.37 L272.40,302.57 L273.40,302.78 L274.40,302.99 L275.40,303.21 L276.39,303.43 L277.39,303.66 L278.39,303.89 L279.39,304.12 L280.39,304.36 L281.39,304.60 L282.39,304.84 L283.39,305.09 L284.39,305.33 L285.39,305.58 L286.39,305.82 L287.39,306.07 L288.39,306.32 L289.39,306.57 L290.39,306.81 L291.39,307.06 L292.39,307.30 L293.39,307.54 L294.38,307.78 L295.38,308.02 L296.38,308.25 L297.38,308.49 L298.38,308.71 L299.38,308.93 L300.38,309.15 L301.38,309.37 L302.38,309.57 L303.38,309.77 L304.38,309.97 L305.38,310.16 L306.38,310.34 L307.38,310.52 L308.38,310.69 L309.38,310.84 L310.38,311.00 L311.38,311.14 L312.38,311.27 L313.37,311.40 L314.37,311.52 L315.37,311.62 L316.37,311.72 L317.37,311.81 L318.37,311.88 L319.37,311.95 L320.37,312.00 L321.37,312.05 L322.37,312.08 L323.37,312.10 L324.37,312.11 L325.37,312.11 L326.37,312.10 L327.37,312.08 L328.37,312.05 L329.37,312.00 L330.37,311.96 L331.36,311.90 L332.36,311.83 L333.36,311.76 L334.36,311.68 L335.36,311.59 L336.36,311.49 L337.36,311.39 L338.36,311.28 L339.36,311.16 L340.36,311.03 L341.36,310.89 L342.36,310.74 L343.36,310.58 L344.36,310.41 L345.36,310.23 L346.36,310.04 L347.36,309.85 L348.36,309.64 L349.35,309.42 L350.35,309.20 L351.35,308.97 L352.35,308.73 L353.35,308.49 L354.35,308.25 L355.35,308.00 L356.35,307.74 L357.35,307.49 L358.35,307.23 L359.35,306.97 L360.35,306.72 L361.35,306.46 L362.35,306.20 L363.35,305.94 L364.35,305.69 L365.35,305.43 L366.35,305.18 L367.34,304.92 L368.34,304.67 L369.34,304.42 L370.34,304.18 L371.34,303.93 L372.34,303.69 L373.34,303.45 L374.34,303.21 L375.34,302.98 L376.34,302.75 L377.34,302.52 L378.34,302.30 L379.34,302.08 L380.34,301.86 L381.34,301.65 L382.34,301.44 L383.34,301.24 L384.34,301.05 L385.33,300.85 L386.33,300.67 L387.33,300.49 L388.33,300.31 L389.33,300.14 L390.33,299.98 L391.33,299.82 L392.33,299.67 L393.33,299.53 L394.33,299.39 L395.33,299.26 L396.33,299.13 L397.33,299.01 L398.33,298.90 L399.33,298.80 L400.33,298.70 L401.33,298.61 L402.32,298.53 L403.32,298.46 L404.32,298.39 L405.32,298.34 L406.32,298.29 L407.32,298.24 L408.32,298.21 L409.32,298.18 L410.32,298.16 L411.32,298.14 L412.32,298.14 L413.32,298.13 L414.32,298.14 L415.32,298.15 L416.32,298.17 L417.32,298.20 L418.32,298.24 L419.32,298.28 L420.31,298.33 L421.31,298.39 L422.31,298.45 L423.31,298.53 L424.31,298.61 L425.31,298.71 L426.31,298.81 L427.31,298.92 L428.31,299.04 L429.31,299.17 L430.31,299.31 L431.31,299.46 L432.31,299.61 L433.31,299.78 L434.31,299.94 L435.31,300.12 L436.31,300.30 L437.31,300.48 L438.31,300.66 L439.30,300.85 L440.30,301.04 L441.30,301.24 L442.30,301.43 L443.30,301.63 L444.30,301.82 L445.30,302.02 L446.30,302.21 L447.30,302.40" fill="none" stroke="#46b45c" stroke-width="1.25" stroke-linejoin="round" clip-path="url(#c4)"/>
<path d="M267.40,324.43 L268.40,324.61 L269.40,324.79 L270.40,324.96 L271.40,325.14 L272.40,325.32 L273.40,325.49 L274.40,325.67 L275.40,325.85 L276.39,326.02 L277.39,326.20 L278.39,326.37 L279.39,326.55 L280.39,326.72 L281.39,326.90 L282.39,327.07 L283.39,327.24 L284.39,327.41 L285.39,327.58 L286.39,327.75 L287.39,327.91 L288.39,328.08 L289.39,328.24 L290.39,328.40 L291.39,328.56 L292.39,328.72 L293.39,328.87 L294.38,329.02 L295.38,329.17 L296.38,329.32 L297.38,329.46 L298.38,329.60 L299.38,329.74 L300.38,329.88 L301.38,330.01 L302.38,330.14 L303.38,330.27 L304.38,330.39 L305.38,330.51 L306.38,330.62 L307.38,330.74 L308.38,330.84 L309.38,330.95 L310.38,331.04 L311.38,331.14 L312.38,331.22 L313.37,331.30 L314.37,331.37 L315.37,331.43 L316.37,331.49 L317.37,331.53 L318.37,331.56 L319.37,331.59 L320.37,331.60 L321.37,331.60 L322.37,331.59 L323.37,331.57 L324.37,331.54 L325.37,331.51 L326.37,331.47 L327.37,331.43 L328.37,331.38 L329.37,331.33 L330.37,331.28 L331.36,331.23 L332.36,331.17 L333.36,331.12 L334.36,331.06 L335.36,331.00 L336.36,330.94 L337.36,330.87 L338.36,330.79 L339.36,330.70 L340.36,330.60 L341.36,330.48 L342.36,330.36 L343.36,330.21 L344.36,330.05 L345.36,329.87 L346.36,329.67 L347.36,329.45 L348.36,329.22 L349.35,328.98 L350.35,328.73 L351.35,328.46 L352.35,328.20 L353.35,327.93 L354.35,327.65 L355.35,327.38 L356.35,327.11 L357.35,326.84 L358.35,326.58 L359.35,326.33 L360.35,326.09 L361.35,325.87 L362.35,325.65 L363.35,325.45 L364.35,325.25 L365.35,325.07 L366.35,324.89 L367.34,324.73 L368.34,324.57 L369.34,324.42 L370.34,324.29 L371.34,324.15 L372.34,324.03 L373.34,323.91 L374.34,323.80 L375.34,323.69 L376.34,323.59 L377.34,323.49 L378.34,323.40 L379.34,323.32 L380.34,323.23 L381.34,323.15 L382.34,323.07 L383.34,323.00 L384.34,322.93 L385.33,322.85 L386.33,322.78 L387.33,322.72 L388.33,322.65 L389.33,322.58 L390.33,322.52 L391.33,322.46 L392.33,322.40 L393.33,322.34 L394.33,322.28 L395.33,322.23 L396.33,322.18 L397.33,322.13 L398.33,322.08 L399.33,322.03 L400.33,321.99 L401.33,321.94 L402.32,321.90 L403.32,321.87 L404.32,321.83 L405.32,321.80 L406.32,321.77 L407.32,321.74 L408.32,321.71 L409.32,321.69 L410.32,321.67 L411.32,321.65 L412.32,321.63 L413.32,321.62 L414.32,321.61 L415.32,321.61 L416.32,321.61 L417.32,321.61 L418.32,321.61 L419.32,321.62 L420.31,321.64 L421.31,321.66 L422.31,321.68 L423.31,321.71 L424.31,321.75 L425.31,321.79 L426.31,321.83 L427.31,321.88 L428.31,321.94 L429.31,322.01 L430.31,322.08 L431.31,322.15 L432.31,322.24 L433.31,322.33 L434.31,322.42 L435.31,322.53 L436.31,322.64 L437.31,322.76 L438.31,322.89 L439.30,323.03 L440.30,323.17 L441.30,323.32 L442.30,323.49 L443.30,323.66 L444.30,323.84 L445.30,324.03 L446.30,324.23 L447.30,324.43" fill="none" stroke="#ee3a32" stroke-width="1.25" stroke-linejoin="round" clip-path="url(#c4)"/>
<path d="M267.40,308.97 L268.40,309.35 L269.40,309.73 L270.40,310.10 L271.40,310.48 L272.40,310.85 L273.40,311.22 L274.40,311.59 L275.40,311.96 L276.39,312.33 L277.39,312.69 L278.39,313.05 L279.39,313.41 L280.39,313.76 L281.39,314.11 L282.39,314.46 L283.39,314.80 L284.39,315.14 L285.39,315.47 L286.39,315.80 L287.39,316.12 L288.39,316.44 L289.39,316.75 L290.39,317.06 L291.39,317.36 L292.39,317.65 L293.39,317.94 L294.38,318.22 L295.38,318.50 L296.38,318.76 L297.38,319.02 L298.38,319.28 L299.38,319.52 L300.38,319.75 L301.38,319.98 L302.38,320.20 L303.38,320.41 L304.38,320.61 L305.38,320.80 L306.38,320.98 L307.38,321.15 L308.38,321.31 L309.38,321.46 L310.38,321.60 L311.38,321.72 L312.38,321.84 L313.37,321.95 L314.37,322.04 L315.37,322.12 L316.37,322.19 L317.37,322.24 L318.37,322.28 L319.37,322.31 L320.37,322.32 L321.37,322.32 L322.37,322.30 L323.37,322.27 L324.37,322.21 L325.37,322.14 L326.37,322.05 L327.37,321.94 L328.37,321.80 L329.37,321.65 L330.37,321.47 L331.36,321.26 L332.36,321.03 L333.36,320.77 L334.36,320.49 L335.36,320.18 L336.36,319.85 L337.36,319.49 L338.36,319.11 L339.36,318.71 L340.36,318.29 L341.36,317.84 L342.36,317.38 L343.36,316.89 L344.36,316.38 L345.36,315.86 L346.36,315.31 L347.36,314.75 L348.36,314.18 L349.35,313.60 L350.35,313.01 L351.35,312.41 L352.35,311.81 L353.35,311.21 L354.35,310.60 L355.35,310.01 L356.35,309.42 L357.35,308.83 L358.35,308.26 L359.35,307.70 L360.35,307.15 L361.35,306.63 L362.35,306.11 L363.35,305.62 L364.35,305.13 L365.35,304.67 L366.35,304.21 L367.34,303.77 L368.34,303.34 L369.34,302.92 L370.34,302.52 L371.34,302.12 L372.34,301.74 L373.34,301.37 L374.34,301.00 L375.34,300.65 L376.34,300.30 L377.34,299.96 L378.34,299.63 L379.34,299.30 L380.34,298.98 L381.34,298.67 L382.34,298.36 L383.34,298.06 L384.34,297.76 L385.33,297.47 L386.33,297.17 L387.33,296.89 L388.33,296.61 L389.33,296.34 L390.33,296.08 L391.33,295.83 L392.33,295.59 L393.33,295.37 L394.33,295.16 L395.33,294.96 L396.33,294.78 L397.33,294.61 L398.33,294.47 L399.33,294.35 L400.33,294.25 L401.33,294.17 L402.32,294.11 L403.32,294.09 L404.32,294.09 L405.32,294.12 L406.32,294.17 L407.32,294.26 L408.32,294.36 L409.32,294.50 L410.32,294.66 L411.32,294.84 L412.32,295.05 L413.32,295.29 L414.32,295.55 L415.32,295.82 L416.32,296.12 L417.32,296.43 L418.32,296.75 L419.32,297.09 L420.31,297.44 L421.31,297.80 L422.31,298.16 L423.31,298.52 L424.31,298.89 L425.31,299.27 L426.31,299.64 L427.31,300.02 L428.31,300.40 L429.31,300.79 L430.31,301.18 L431.31,301.58 L432.31,301.97 L433.31,302.38 L434.31,302.79 L435.31,303.20 L436.31,303.62 L437.31,304.04 L438.31,304.47 L439.30,304.90 L440.30,305.34 L441.30,305.79 L442.30,306.24 L443.30,306.69 L444.30,307.16 L445.30,307.63 L446.30,308.10 L447.30,308.58" fill="none" stroke="#3558b4" stroke-width="1.4" stroke-linejoin="round" clip-path="url(#c4)"/>
<path d="M267.40,354.2 v-2.2 M267.40,218.9 v2.2 M272.40,354.2 v-2.2 M272.40,218.9 v2.2 M277.39,354.2 v-2.2 M277.39,218.9 v2.2 M282.39,354.2 v-2.2 M282.39,218.9 v2.2 M287.39,354.2 v-2.2 M287.39,218.9 v2.2 M292.39,354.2 v-2.2 M292.39,218.9 v2.2 M297.38,354.2 v-2.2 M297.38,218.9 v2.2 M302.38,354.2 v-2.2 M302.38,218.9 v2.2 M307.38,354.2 v-2.2 M307.38,218.9 v2.2 M312.38,354.2 v-2.2 M312.38,218.9 v2.2 M317.37,354.2 v-2.2 M317.37,218.9 v2.2 M322.37,354.2 v-2.2 M322.37,218.9 v2.2 M327.37,354.2 v-2.2 M327.37,218.9 v2.2 M332.36,354.2 v-2.2 M332.36,218.9 v2.2 M337.36,354.2 v-2.2 M337.36,218.9 v2.2 M342.36,354.2 v-2.2 M342.36,218.9 v2.2 M347.36,354.2 v-2.2 M347.36,218.9 v2.2 M352.35,354.2 v-2.2 M352.35,218.9 v2.2 M357.35,354.2 v-2.2 M357.35,218.9 v2.2 M362.35,354.2 v-2.2 M362.35,218.9 v2.2 M367.34,354.2 v-2.2 M367.34,218.9 v2.2 M372.34,354.2 v-2.2 M372.34,218.9 v2.2 M377.34,354.2 v-2.2 M377.34,218.9 v2.2 M382.34,354.2 v-2.2 M382.34,218.9 v2.2 M387.33,354.2 v-2.2 M387.33,218.9 v2.2 M392.33,354.2 v-2.2 M392.33,218.9 v2.2 M397.33,354.2 v-2.2 M397.33,218.9 v2.2 M402.32,354.2 v-2.2 M402.32,218.9 v2.2 M407.32,354.2 v-2.2 M407.32,218.9 v2.2 M412.32,354.2 v-2.2 M412.32,218.9 v2.2 M417.32,354.2 v-2.2 M417.32,218.9 v2.2 M422.31,354.2 v-2.2 M422.31,218.9 v2.2 M427.31,354.2 v-2.2 M427.31,218.9 v2.2 M432.31,354.2 v-2.2 M432.31,218.9 v2.2 M437.31,354.2 v-2.2 M437.31,218.9 v2.2 M442.30,354.2 v-2.2 M442.30,218.9 v2.2 M447.30,354.2 v-2.2 M447.30,218.9 v2.2 M267.40,354.2 v-4.3 M267.40,218.9 v4.3 M292.39,354.2 v-4.3 M292.39,218.9 v4.3 M317.37,354.2 v-4.3 M317.37,218.9 v4.3 M342.36,354.2 v-4.3 M342.36,218.9 v4.3 M367.34,354.2 v-4.3 M367.34,218.9 v4.3 M392.33,354.2 v-4.3 M392.33,218.9 v4.3 M417.32,354.2 v-4.3 M417.32,218.9 v4.3 M442.30,354.2 v-4.3 M442.30,218.9 v4.3 M267.4,354.20 h2.2 M447.3,354.20 h-2.2 M267.4,350.33 h2.2 M447.3,350.33 h-2.2 M267.4,346.47 h2.2 M447.3,346.47 h-2.2 M267.4,342.60 h2.2 M447.3,342.60 h-2.2 M267.4,338.74 h2.2 M447.3,338.74 h-2.2 M267.4,334.87 h2.2 M447.3,334.87 h-2.2 M267.4,331.01 h2.2 M447.3,331.01 h-2.2 M267.4,327.14 h2.2 M447.3,327.14 h-2.2 M267.4,323.27 h2.2 M447.3,323.27 h-2.2 M267.4,319.41 h2.2 M447.3,319.41 h-2.2 M267.4,315.54 h2.2 M447.3,315.54 h-2.2 M267.4,311.68 h2.2 M447.3,311.68 h-2.2 M267.4,307.81 h2.2 M447.3,307.81 h-2.2 M267.4,303.95 h2.2 M447.3,303.95 h-2.2 M267.4,300.08 h2.2 M447.3,300.08 h-2.2 M267.4,296.21 h2.2 M447.3,296.21 h-2.2 M267.4,292.35 h2.2 M447.3,292.35 h-2.2 M267.4,288.48 h2.2 M447.3,288.48 h-2.2 M267.4,284.62 h2.2 M447.3,284.62 h-2.2 M267.4,280.75 h2.2 M447.3,280.75 h-2.2 M267.4,276.89 h2.2 M447.3,276.89 h-2.2 M267.4,273.02 h2.2 M447.3,273.02 h-2.2 M267.4,269.15 h2.2 M447.3,269.15 h-2.2 M267.4,265.29 h2.2 M447.3,265.29 h-2.2 M267.4,261.42 h2.2 M447.3,261.42 h-2.2 M267.4,257.56 h2.2 M447.3,257.56 h-2.2 M267.4,253.69 h2.2 M447.3,253.69 h-2.2 M267.4,249.83 h2.2 M447.3,249.83 h-2.2 M267.4,245.96 h2.2 M447.3,245.96 h-2.2 M267.4,242.09 h2.2 M447.3,242.09 h-2.2 M267.4,238.23 h2.2 M447.3,238.23 h-2.2 M267.4,234.36 h2.2 M447.3,234.36 h-2.2 M267.4,230.50 h2.2 M447.3,230.50 h-2.2 M267.4,226.63 h2.2 M447.3,226.63 h-2.2 M267.4,222.77 h2.2 M447.3,222.77 h-2.2 M267.4,218.90 h2.2 M447.3,218.90 h-2.2 M267.4,354.20 h4.3 M447.3,354.20 h-4.3 M267.4,334.87 h4.3 M447.3,334.87 h-4.3 M267.4,315.54 h4.3 M447.3,315.54 h-4.3 M267.4,296.21 h4.3 M447.3,296.21 h-4.3 M267.4,276.89 h4.3 M447.3,276.89 h-4.3 M267.4,257.56 h4.3 M447.3,257.56 h-4.3 M267.4,238.23 h4.3 M447.3,238.23 h-4.3 M267.4,218.90 h4.3 M447.3,218.90 h-4.3" stroke="#000" stroke-width="1.2" fill="none"/>
<rect x="267.4" y="218.9" width="179.90000000000003" height="135.29999999999998" fill="none" stroke="#000" stroke-width="1.4"/>
<text transform="translate(268.3,365.8) scale(0.89,1)" font-size="9.2" text-anchor="middle" font-weight="bold">0</text>
<text transform="translate(293.3,365.8) scale(0.89,1)" font-size="9.2" text-anchor="middle" font-weight="bold">50</text>
<text transform="translate(318.3,365.8) scale(0.89,1)" font-size="9.2" text-anchor="middle" font-weight="bold">100</text>
<text transform="translate(343.3,365.8) scale(0.89,1)" font-size="9.2" text-anchor="middle" font-weight="bold">150</text>
<text transform="translate(368.2,365.8) scale(0.89,1)" font-size="9.2" text-anchor="middle" font-weight="bold">200</text>
<text transform="translate(393.2,365.8) scale(0.89,1)" font-size="9.2" text-anchor="middle" font-weight="bold">250</text>
<text transform="translate(418.2,365.8) scale(0.89,1)" font-size="9.2" text-anchor="middle" font-weight="bold">300</text>
<text transform="translate(443.2,365.8) scale(0.89,1)" font-size="9.2" text-anchor="middle" font-weight="bold">350</text>
<text transform="translate(261.8,356.8) scale(0.89,1)" font-size="9.2" text-anchor="end" font-weight="bold">0</text>
<text transform="translate(261.8,337.5) scale(0.89,1)" font-size="9.2" text-anchor="end" font-weight="bold">5</text>
<text transform="translate(261.8,318.1) scale(0.89,1)" font-size="9.2" text-anchor="end" font-weight="bold">10</text>
<text transform="translate(261.8,298.8) scale(0.89,1)" font-size="9.2" text-anchor="end" font-weight="bold">15</text>
<text transform="translate(261.8,279.5) scale(0.89,1)" font-size="9.2" text-anchor="end" font-weight="bold">20</text>
<text transform="translate(261.8,260.2) scale(0.89,1)" font-size="9.2" text-anchor="end" font-weight="bold">25</text>
<text transform="translate(261.8,240.8) scale(0.89,1)" font-size="9.2" text-anchor="end" font-weight="bold">30</text>
<text transform="translate(261.8,221.5) scale(0.89,1)" font-size="9.2" text-anchor="end" font-weight="bold">35</text>
<path d="M275.2,203.9 H312.4" stroke="#000" stroke-width="1.1"/>
<text x="316.3" y="208.1" font-size="11.2" text-anchor="start">SI+Sterile</text>
<path d="M371.7,203.8 H410.7" stroke="#000" stroke-width="1.1" stroke-dasharray="4.4 4.2"/>
<text x="416.4" y="208.1" font-size="11.2" text-anchor="start">SI</text>
<text x="299.5" y="230.0" font-size="7.6" text-anchor="end" font-weight="bold">DUNE</text>
<path d="M303.2,227.3 H325.1" stroke="#3558b4" stroke-width="1.4" stroke-dasharray="4 4.75"/>
<text x="299.5" y="239.4" font-size="7.6" text-anchor="end" font-weight="bold">P2O</text>
<path d="M303.2,236.7 H325.1" stroke="#ee3a32" stroke-width="1.2" stroke-dasharray="4 4.75"/>
<text x="299.5" y="248.9" font-size="7.6" text-anchor="end" font-weight="bold">Up P2O</text>
<path d="M303.2,246.2 H325.1" stroke="#46b45c" stroke-width="1.2" stroke-dasharray="4 4.75"/>
<text x="299.5" y="258.3" font-size="7.6" text-anchor="end" font-weight="bold">P2SO</text>
<path d="M303.2,255.6 H325.1" stroke="#bf78c2" stroke-width="1.1" stroke-dasharray="4 4.75"/>
<text x="446" y="233.8" font-size="8.5" text-anchor="end" font-weight="bold"><tspan font-weight="normal" font-size="9.52">Δ</tspan>m<tspan dy="-3.7" font-size="6.80">2</tspan><tspan dy="5.9" dx="0.4" font-size="6.80">41</tspan><tspan dy="-2.2">=10eV</tspan><tspan dy="-3.7" font-size="6.80">2</tspan><tspan dy="3.7">(ND+FD)</tspan></text>
<text x="357.5" y="377.8" font-size="10.75" text-anchor="middle">δ<tspan dy="3.1" font-size="9.2">CP</tspan><tspan dy="-3.1"> (degree)</tspan></text>
<text transform="translate(243.4,290.2) rotate(-90)" font-size="11.5">σ</text>
</svg></body></html>
